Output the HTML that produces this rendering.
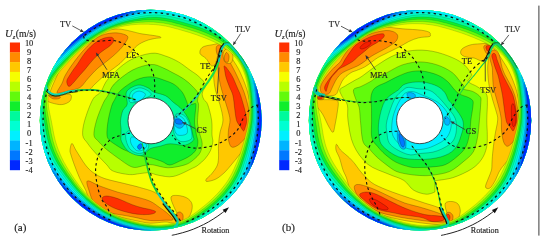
<!DOCTYPE html><html><head><meta charset="utf-8"><title>Axial velocity contours</title>
<style>html,body{margin:0;padding:0;background:#fff}svg{display:block}text{font-family:"Liberation Serif",serif;fill:#222;stroke:#222;stroke-width:0.15px}</style></head><body>
<svg width="550" height="242" viewBox="0 0 550 242">
<defs><filter id="b1"><feGaussianBlur stdDeviation="0.6"/></filter><filter id="b2"><feGaussianBlur stdDeviation="1.2"/></filter></defs>
<rect width="550" height="242" fill="#fff"/>
<rect x="9.9" y="42.50" width="10.1" height="10.10" fill="#ff3000"/>
<rect x="9.9" y="52.30" width="10.1" height="10.10" fill="#ff8a00"/>
<rect x="9.9" y="62.10" width="10.1" height="10.10" fill="#ffc800"/>
<rect x="9.9" y="71.90" width="10.1" height="10.10" fill="#f6ff00"/>
<rect x="9.9" y="81.70" width="10.1" height="10.10" fill="#b8ff00"/>
<rect x="9.9" y="91.50" width="10.1" height="10.10" fill="#62fa0c"/>
<rect x="9.9" y="101.30" width="10.1" height="10.10" fill="#10ee2c"/>
<rect x="9.9" y="111.10" width="10.1" height="10.10" fill="#00fa9c"/>
<rect x="9.9" y="120.90" width="10.1" height="10.10" fill="#00ffd2"/>
<rect x="9.9" y="130.70" width="10.1" height="10.10" fill="#00f0ff"/>
<rect x="9.9" y="140.50" width="10.1" height="10.10" fill="#00b4ff"/>
<rect x="9.9" y="150.30" width="10.1" height="10.10" fill="#0078ff"/>
<rect x="9.9" y="160.10" width="10.1" height="10.10" fill="#0028ff"/>
<text x="29.1" y="45.5" text-anchor="middle" font-size="8.4">10</text>
<text x="29.1" y="54.6" text-anchor="middle" font-size="8.4">9</text>
<text x="29.1" y="63.7" text-anchor="middle" font-size="8.4">8</text>
<text x="29.1" y="72.8" text-anchor="middle" font-size="8.4">7</text>
<text x="29.1" y="81.9" text-anchor="middle" font-size="8.4">6</text>
<text x="29.1" y="90.9" text-anchor="middle" font-size="8.4">5</text>
<text x="29.1" y="100.0" text-anchor="middle" font-size="8.4">4</text>
<text x="29.1" y="109.1" text-anchor="middle" font-size="8.4">3</text>
<text x="29.1" y="118.2" text-anchor="middle" font-size="8.4">2</text>
<text x="29.1" y="127.3" text-anchor="middle" font-size="8.4">1</text>
<text x="29.1" y="136.4" text-anchor="middle" font-size="8.4">0</text>
<text x="29.1" y="145.5" text-anchor="middle" font-size="8.4">-1</text>
<text x="29.1" y="154.6" text-anchor="middle" font-size="8.4">-2</text>
<text x="29.1" y="163.7" text-anchor="middle" font-size="8.4">-3</text>
<text x="29.1" y="172.8" text-anchor="middle" font-size="8.4">-4</text>
<text x="5.1" y="37.3" font-size="10.5"><tspan font-style="italic">U</tspan><tspan font-style="italic" font-size="6.5" dy="1.5">z</tspan><tspan dy="-1.5" dx="0.6" font-size="9.6">(m/s)</tspan></text>
<rect x="279.2" y="42.50" width="10.1" height="10.10" fill="#ff3000"/>
<rect x="279.2" y="52.30" width="10.1" height="10.10" fill="#ff8a00"/>
<rect x="279.2" y="62.10" width="10.1" height="10.10" fill="#ffc800"/>
<rect x="279.2" y="71.90" width="10.1" height="10.10" fill="#f6ff00"/>
<rect x="279.2" y="81.70" width="10.1" height="10.10" fill="#b8ff00"/>
<rect x="279.2" y="91.50" width="10.1" height="10.10" fill="#62fa0c"/>
<rect x="279.2" y="101.30" width="10.1" height="10.10" fill="#10ee2c"/>
<rect x="279.2" y="111.10" width="10.1" height="10.10" fill="#00fa9c"/>
<rect x="279.2" y="120.90" width="10.1" height="10.10" fill="#00ffd2"/>
<rect x="279.2" y="130.70" width="10.1" height="10.10" fill="#00f0ff"/>
<rect x="279.2" y="140.50" width="10.1" height="10.10" fill="#00b4ff"/>
<rect x="279.2" y="150.30" width="10.1" height="10.10" fill="#0078ff"/>
<rect x="279.2" y="160.10" width="10.1" height="10.10" fill="#0028ff"/>
<text x="298.4" y="45.5" text-anchor="middle" font-size="8.4">10</text>
<text x="298.4" y="54.6" text-anchor="middle" font-size="8.4">9</text>
<text x="298.4" y="63.7" text-anchor="middle" font-size="8.4">8</text>
<text x="298.4" y="72.8" text-anchor="middle" font-size="8.4">7</text>
<text x="298.4" y="81.9" text-anchor="middle" font-size="8.4">6</text>
<text x="298.4" y="90.9" text-anchor="middle" font-size="8.4">5</text>
<text x="298.4" y="100.0" text-anchor="middle" font-size="8.4">4</text>
<text x="298.4" y="109.1" text-anchor="middle" font-size="8.4">3</text>
<text x="298.4" y="118.2" text-anchor="middle" font-size="8.4">2</text>
<text x="298.4" y="127.3" text-anchor="middle" font-size="8.4">1</text>
<text x="298.4" y="136.4" text-anchor="middle" font-size="8.4">0</text>
<text x="298.4" y="145.5" text-anchor="middle" font-size="8.4">-1</text>
<text x="298.4" y="154.6" text-anchor="middle" font-size="8.4">-2</text>
<text x="298.4" y="163.7" text-anchor="middle" font-size="8.4">-3</text>
<text x="298.4" y="172.8" text-anchor="middle" font-size="8.4">-4</text>
<text x="274.4" y="37.3" font-size="10.5"><tspan font-style="italic">U</tspan><tspan font-style="italic" font-size="6.5" dy="1.5">z</tspan><tspan dy="-1.5" dx="0.6" font-size="9.6">(m/s)</tspan></text>
<clipPath id="clip1"><ellipse cx="150.7" cy="120.2" rx="110.9" ry="110.4"/></clipPath>
<g clip-path="url(#clip1)">
<rect x="30" y="0" width="240" height="242" fill="#f6ff00"/>
<path d="M211.7 120.8C211.0 115.7 209.0 108.1 207.7 104.5C206.4 101.0 204.8 101.1 203.8 99.4C202.9 97.8 202.4 96.1 202.2 94.7C202.1 93.3 203.0 90.8 203.0 90.8C203.0 90.8 206.0 85.5 206.0 85.5C206.0 85.5 204.9 83.0 203.5 81.3C202.0 79.5 199.5 77.0 197.2 75.1C194.9 73.2 193.0 72.2 189.9 70.0C186.8 67.8 182.6 64.3 178.5 61.9C174.3 59.5 169.4 57.2 164.8 55.8C160.2 54.3 157.0 52.5 151.0 53.3C145.0 54.1 136.2 56.5 129.1 60.7C122.0 64.8 113.3 73.2 108.6 78.4C103.9 83.6 103.4 88.3 100.8 91.8C98.1 95.3 95.4 94.8 92.7 99.6C90.0 104.4 86.3 114.8 84.6 120.8C82.9 126.8 82.3 131.6 82.7 135.3C83.2 139.0 85.5 140.3 87.2 142.8C88.8 145.2 90.6 147.5 92.7 149.9C94.7 152.3 96.9 154.5 99.3 157.0C101.7 159.5 104.6 162.6 106.9 164.9C109.2 167.3 109.4 169.5 113.1 171.1C116.8 172.7 124.8 174.2 129.3 174.6C133.7 175.0 136.5 173.9 139.8 173.6C143.1 173.3 146.0 172.5 149.2 172.8C152.3 173.0 154.6 174.7 158.7 175.3C162.7 175.9 167.9 177.6 173.5 176.4C179.1 175.3 188.2 170.3 192.3 168.3C196.5 166.4 196.2 166.5 198.3 164.9C200.4 163.3 203.1 161.0 205.1 158.7C207.1 156.3 209.0 153.8 210.3 151.0C211.5 148.2 212.5 144.8 212.8 142.1C213.1 139.4 212.2 138.4 212.0 134.9C211.8 131.3 212.4 125.9 211.7 120.8Z" fill="#b8ff00" stroke="#000" stroke-width="0.40" stroke-opacity="0.60"/>
<path d="M197.5 120.8C197.6 117.3 198.6 108.6 198.6 105.3C198.6 102.1 197.5 102.5 197.5 101.1C197.4 99.6 198.1 98.0 198.2 96.7C198.4 95.5 199.5 95.2 198.5 93.5C197.5 91.7 194.8 88.6 192.3 86.2C189.8 83.7 186.9 81.0 183.6 78.8C180.3 76.5 176.0 74.4 172.5 72.6C168.9 70.7 165.9 68.8 162.3 67.5C158.8 66.1 156.0 64.1 151.0 64.5C146.0 64.9 138.7 66.8 132.5 70.1C126.4 73.3 118.4 79.7 114.2 84.0C110.1 88.3 109.6 92.6 107.7 95.8C105.8 99.0 105.0 99.2 103.1 103.4C101.2 107.5 97.9 115.5 96.4 120.8C94.9 126.1 93.7 131.6 93.9 135.0C94.2 138.4 96.4 139.0 98.2 141.1C99.9 143.2 102.2 145.6 104.5 147.7C106.8 149.7 109.2 151.6 111.9 153.6C114.5 155.7 117.8 157.9 120.5 159.8C123.2 161.7 125.6 163.7 128.0 165.0C130.4 166.3 132.1 167.4 134.9 167.5C137.7 167.6 141.8 165.8 144.7 165.4C147.7 164.9 148.6 164.4 152.5 164.8C156.4 165.2 162.7 167.8 168.1 167.8C173.5 167.8 180.6 166.2 184.8 164.9C189.1 163.6 191.0 161.8 193.5 159.8C196.1 157.7 198.6 155.4 200.1 152.7C201.5 150.0 202.2 146.7 202.2 143.6C202.1 140.4 200.4 136.7 199.8 133.9C199.1 131.0 198.5 128.8 198.1 126.6C197.8 124.4 197.4 124.3 197.5 120.8Z" fill="#62fa0c" stroke="#000" stroke-width="0.40" stroke-opacity="0.60"/>
<path d="M194.5 120.8C194.6 117.2 195.9 108.2 195.9 105.3C196.0 102.5 194.7 103.6 194.7 103.6C194.7 103.6 188.0 105.5 188.0 105.5C188.0 105.5 187.0 102.1 186.0 99.9C185.1 97.7 184.1 94.8 182.3 92.3C180.4 89.8 177.8 86.9 174.9 84.9C172.0 83.0 169.0 81.8 165.0 80.5C161.1 79.1 155.8 76.9 151.0 76.8C146.2 76.7 141.2 77.7 136.1 79.9C131.1 82.2 124.2 87.1 120.6 90.4C117.0 93.7 116.1 97.1 114.6 99.8C113.1 102.5 112.6 102.9 111.5 106.4C110.4 109.9 108.9 116.0 108.1 120.8C107.3 125.6 106.7 131.9 107.0 135.1C107.2 138.3 108.1 138.6 109.5 140.2C110.9 141.8 113.1 143.1 115.5 144.7C117.9 146.3 120.9 148.3 124.0 149.8C127.1 151.3 131.0 152.6 134.2 153.7C137.5 154.8 140.6 155.8 143.4 156.5C146.2 157.2 147.9 157.0 151.0 157.8C154.1 158.6 158.7 160.2 161.9 161.4C165.0 162.6 166.8 165.0 169.8 165.0C172.7 164.9 176.5 162.5 179.8 161.0C183.1 159.6 187.0 157.9 189.7 156.0C192.4 154.1 194.5 152.2 195.9 149.9C197.2 147.6 197.8 144.7 197.9 142.2C198.0 139.6 196.9 137.2 196.4 134.7C196.0 132.2 195.4 129.3 195.1 127.0C194.7 124.7 194.4 124.4 194.5 120.8Z" fill="#10ee2c" stroke="#000" stroke-width="0.40" stroke-opacity="0.60"/>
<path d="M189.3 120.8C187.5 116.5 184.7 112.6 182.0 109.5C179.3 106.4 176.0 104.5 173.2 102.2C170.5 99.9 168.8 97.4 165.5 95.7C162.2 94.0 156.4 93.2 153.5 91.9C150.6 90.6 150.7 89.1 148.1 87.9C145.5 86.8 141.6 84.5 138.0 85.1C134.4 85.7 128.4 88.5 126.6 91.7C124.8 94.9 127.9 101.0 127.2 104.2C126.6 107.3 123.9 107.8 122.8 110.5C121.7 113.3 120.8 117.8 120.5 120.8C120.2 123.8 121.0 126.5 121.1 128.8C121.2 131.1 121.0 132.6 121.1 134.7C121.2 136.9 120.2 138.6 121.5 141.4C122.9 144.3 125.8 149.6 129.2 151.9C132.6 154.3 138.2 156.1 141.7 155.6C145.2 155.0 146.9 150.3 150.0 148.8C153.1 147.2 156.9 147.0 160.2 146.2C163.6 145.3 166.2 143.9 170.3 143.8C174.3 143.6 180.7 145.7 184.6 145.2C188.4 144.6 191.8 142.2 193.2 140.5C194.6 138.8 193.5 138.5 192.9 135.2C192.2 131.9 191.1 125.1 189.3 120.8Z" fill="#00fa9c" stroke="#000" stroke-width="0.40" stroke-opacity="0.60"/>
<path d="M151.0 94.8C151.6 93.3 148.7 91.2 146.7 90.1C144.7 89.0 141.7 87.6 139.0 87.9C136.4 88.2 132.5 89.9 130.9 92.1C129.3 94.4 128.7 99.7 129.4 101.4C130.2 103.1 133.3 102.8 135.6 102.4C137.9 102.0 140.6 100.5 143.1 99.2C145.7 97.9 150.4 96.3 151.0 94.8Z" fill="#00ffd2" stroke="#000" stroke-width="0.40" stroke-opacity="0.60"/>
<path d="M145.4 94.4C145.3 92.8 141.1 91.1 139.0 91.1C137.0 91.1 134.1 92.7 133.1 94.3C132.1 95.9 131.9 99.6 132.9 100.7C134.0 101.8 137.4 101.9 139.5 100.9C141.6 99.8 145.5 96.0 145.4 94.4Z" fill="#00f0ff" stroke="#000" stroke-width="0.40" stroke-opacity="0.60"/>
<path d="M176.1 114.1C177.8 112.4 181.5 113.9 183.5 115.1C185.5 116.2 186.7 118.0 188.0 120.8C189.3 123.6 191.1 128.6 191.6 131.7C192.0 134.8 192.7 137.8 190.9 139.4C189.0 141.0 183.2 142.3 180.5 141.4C177.7 140.6 175.5 137.1 174.4 134.3C173.2 131.5 173.4 128.2 173.7 124.8C173.9 121.4 174.5 115.7 176.1 114.1Z" fill="#00ffd2" stroke="#000" stroke-width="0.40" stroke-opacity="0.60"/>
<path d="M175.5 115.6C176.9 114.1 181.0 116.3 182.9 118.0C184.7 119.7 186.0 123.2 186.6 125.8C187.3 128.4 188.2 132.3 186.7 133.8C185.2 135.3 179.6 136.0 177.5 134.9C175.4 133.8 174.5 130.2 174.2 127.0C173.8 123.8 174.0 117.1 175.5 115.6Z" fill="#00f0ff" stroke="#000" stroke-width="0.40" stroke-opacity="0.60"/>
<path d="M174.8 117.5C176.0 116.8 179.5 118.4 181.0 119.8C182.5 121.1 184.0 124.0 183.7 125.4C183.4 126.8 180.7 128.5 179.0 128.3C177.4 128.1 174.5 125.8 173.8 124.0C173.1 122.2 173.6 118.2 174.8 117.5Z" fill="#00b4ff" stroke="#000" stroke-width="0.40" stroke-opacity="0.60"/>
<path d="M175.9 119.1C177.0 118.6 181.0 120.0 182.0 120.8C183.0 121.6 182.9 123.6 181.8 124.0C180.8 124.5 176.8 124.2 175.9 123.4C174.9 122.6 174.9 119.5 175.9 119.1Z" fill="#0078ff" stroke="#000" stroke-width="0.40" stroke-opacity="0.60"/>
<path d="M148.8 145.7C148.9 147.3 147.4 150.1 145.6 151.3C143.8 152.6 140.6 153.7 137.9 153.3C135.2 152.8 131.5 151.1 129.5 148.4C127.4 145.6 125.6 139.6 125.6 136.7C125.5 133.8 127.1 130.6 129.2 130.9C131.4 131.3 135.7 137.0 138.4 138.8C141.1 140.7 143.6 140.9 145.3 142.1C147.0 143.2 148.8 144.2 148.8 145.7Z" fill="#00ffd2" stroke="#000" stroke-width="0.40" stroke-opacity="0.60"/>
<path d="M146.7 145.4C146.9 146.9 144.9 148.9 143.2 149.8C141.5 150.6 138.6 151.6 136.5 150.5C134.5 149.3 131.7 145.4 130.9 143.1C130.1 140.8 130.1 137.3 131.8 136.9C133.6 136.5 139.2 139.3 141.7 140.7C144.2 142.2 146.4 143.9 146.7 145.4Z" fill="#00f0ff" stroke="#000" stroke-width="0.40" stroke-opacity="0.60"/>
<path d="M142.7 146.5C142.4 147.5 140.3 149.6 139.4 149.5C138.5 149.5 137.1 147.4 137.4 146.4C137.6 145.4 140.0 143.6 140.8 143.6C141.7 143.7 142.9 145.5 142.7 146.5Z" fill="#0078ff" stroke="#000" stroke-width="0.40" stroke-opacity="0.60"/>
<path d="M50.0 93.0C50.2 90.5 53.0 84.5 55.0 80.0C57.0 75.5 59.2 70.7 62.0 66.0C64.8 61.3 68.3 56.3 72.0 52.0C75.7 47.7 79.7 43.3 84.0 40.0C88.3 36.7 92.8 33.8 98.0 32.0C103.2 30.2 110.1 29.3 115.0 29.0C119.9 28.7 123.3 29.6 127.4 30.4C131.5 31.1 135.7 32.7 139.8 33.5C143.9 34.3 148.9 34.8 152.2 35.3C155.5 35.8 158.2 36.2 159.6 36.6C161.0 37.0 161.3 37.5 160.5 37.8C159.7 38.1 157.1 38.0 154.7 38.5C152.3 39.0 148.9 39.6 146.0 40.8C143.1 42.0 140.1 43.3 137.3 45.5C134.5 47.7 131.9 51.0 129.0 54.0C126.1 57.0 123.2 60.7 120.0 63.5C116.8 66.3 113.2 68.5 110.0 71.0C106.8 73.5 103.7 76.2 101.0 78.5C98.3 80.8 96.2 83.1 94.0 85.0C91.8 86.9 92.0 88.9 88.0 90.0C84.0 91.1 74.3 90.9 70.0 91.5C65.7 92.1 64.7 93.0 62.0 93.5C59.3 94.0 56.0 94.8 54.0 94.7C52.0 94.6 49.8 95.5 50.0 93.0Z" fill="#ffc800" stroke="#000" stroke-width="0.40" stroke-opacity="0.60"/>
<path d="M57.0 92.5C57.0 91.0 60.6 86.2 61.9 83.5C63.2 80.8 63.4 79.0 64.9 76.1C66.4 73.2 68.8 69.4 71.1 66.1C73.4 62.8 75.9 59.4 78.6 56.1C81.3 52.8 84.2 49.3 87.3 46.2C90.4 43.1 94.0 39.6 97.3 37.5C100.6 35.4 103.8 34.5 107.2 33.7C110.7 33.0 114.6 32.6 118.0 33.0C121.4 33.4 126.2 34.6 127.5 36.2C128.8 37.8 126.8 40.2 125.5 42.4C124.2 44.6 122.2 47.1 120.0 49.5C117.8 51.9 115.0 54.3 112.5 56.5C110.0 58.7 107.4 60.7 105.0 62.6C102.6 64.5 100.2 66.1 98.0 68.0C95.8 69.9 94.0 71.9 92.0 74.0C90.0 76.1 88.3 78.2 86.3 80.5C84.3 82.8 82.7 85.8 80.0 87.5C77.3 89.2 73.0 89.7 70.0 90.5C67.0 91.3 64.2 92.2 62.0 92.5C59.8 92.8 57.0 94.0 57.0 92.5Z" fill="#ff8a00" stroke="#000" stroke-width="0.40" stroke-opacity="0.60"/>
<path d="M69.0 86.5C67.7 86.4 66.6 82.9 66.8 81.0C67.0 79.1 68.8 76.9 69.9 75.0C71.0 73.1 72.3 71.2 73.5 69.5C74.7 67.8 75.7 66.6 76.9 64.9C78.1 63.2 79.3 61.2 80.6 59.2C81.9 57.2 83.2 55.1 84.9 53.0C86.6 50.9 88.5 48.7 90.5 46.8C92.5 44.9 94.4 43.2 96.7 41.8C99.0 40.3 101.6 38.9 104.1 38.1C106.6 37.4 110.0 36.9 111.6 37.3C113.2 37.7 114.0 39.1 113.8 40.5C113.6 41.9 111.9 43.9 110.3 45.5C108.7 47.1 106.2 48.4 104.1 49.9C102.0 51.4 99.8 53.1 97.9 54.8C96.1 56.4 94.5 58.1 93.0 59.8C91.5 61.5 90.0 63.2 88.6 64.9C87.2 66.6 86.0 68.2 84.5 70.0C83.0 71.8 81.2 73.6 79.5 75.5C77.8 77.4 76.2 79.7 74.5 81.5C72.8 83.3 70.3 86.6 69.0 86.5Z" fill="#ff3000" stroke="#000" stroke-width="0.40" stroke-opacity="0.60"/>
<path d="M45.5 94.7C47.0 94.1 51.8 96.5 55.0 96.5C58.2 96.5 62.3 94.8 65.0 94.5C67.7 94.2 70.2 93.9 71.0 95.0C71.8 96.1 71.5 99.4 70.0 101.0C68.5 102.6 65.0 104.3 62.0 104.6C59.0 104.9 54.7 103.8 52.0 103.0C49.3 102.2 47.1 101.4 46.0 100.0C44.9 98.6 44.0 95.3 45.5 94.7Z" fill="#ffc800" stroke="#000" stroke-width="0.40" stroke-opacity="0.60"/>
<path d="M48.6 95.5C48.8 95.2 52.1 96.8 54.0 97.0C55.9 97.2 59.2 96.2 60.0 96.5C60.8 96.8 60.2 98.2 59.0 98.6C57.8 99.0 54.7 99.3 53.0 98.8C51.3 98.3 48.4 95.8 48.6 95.5Z" fill="#ff8a00" stroke="#000" stroke-width="0.40" stroke-opacity="0.60"/>
<path d="M202.4 47.3C204.4 45.8 208.9 45.3 212.0 44.8C215.1 44.2 219.7 42.8 221.0 44.0C222.3 45.2 220.5 49.3 220.0 52.0C219.5 54.7 219.3 57.7 218.0 60.0C216.7 62.3 214.0 66.2 212.0 66.0C210.0 65.8 208.0 60.6 206.0 58.5C204.0 56.4 200.6 55.4 200.0 53.5C199.4 51.6 200.4 48.8 202.4 47.3Z" fill="#ffc800" stroke="#000" stroke-width="0.40" stroke-opacity="0.60"/>
<path d="M216.6 46.5C217.3 45.3 220.1 44.2 220.7 45.0C221.3 45.8 220.4 49.2 220.0 51.0C219.6 52.8 219.1 55.8 218.5 56.0C217.9 56.2 216.8 53.6 216.5 52.0C216.2 50.4 215.9 47.7 216.6 46.5Z" fill="#ff8a00" stroke="#000" stroke-width="0.40" stroke-opacity="0.60"/>
<path d="M221.0 47.0C222.7 45.0 224.0 47.8 226.0 50.0C228.0 52.2 230.7 56.3 233.0 60.0C235.3 63.7 237.7 67.0 240.0 72.0C242.3 77.0 245.2 83.7 247.0 90.0C248.8 96.3 250.2 103.3 251.0 110.0C251.8 116.7 253.0 123.8 252.0 130.0C251.0 136.2 247.3 142.6 245.0 147.0C242.7 151.4 240.2 153.6 238.0 156.5C235.8 159.4 233.8 161.8 231.5 164.5C229.2 167.2 227.1 170.1 224.5 172.5C221.9 174.9 218.9 177.5 216.0 179.0C213.1 180.5 208.6 181.5 207.0 181.5C205.4 181.5 205.6 180.2 206.3 179.0C207.1 177.8 209.7 176.2 211.5 174.0C213.3 171.8 215.8 168.7 217.0 166.0C218.2 163.3 218.2 161.5 218.5 158.0C218.8 154.5 218.2 149.2 218.5 145.0C218.8 140.8 219.2 136.7 220.0 132.5C220.8 128.3 223.0 124.6 223.0 120.0C223.0 115.4 221.3 109.8 220.0 104.8C218.7 99.8 216.5 95.0 215.4 90.0C214.3 85.0 213.6 79.7 213.7 75.0C213.8 70.3 214.8 66.7 216.0 62.0C217.2 57.3 219.3 49.0 221.0 47.0Z" fill="#ffc800" stroke="#000" stroke-width="0.40" stroke-opacity="0.60"/>
<path d="M221.5 52.0C222.7 51.3 224.2 53.7 226.0 56.0C227.8 58.3 230.0 62.3 232.0 66.0C234.0 69.7 236.0 73.7 238.0 78.0C240.0 82.3 242.2 87.0 244.0 92.0C245.8 97.0 247.4 103.0 248.5 108.0C249.6 113.0 250.5 117.8 250.5 122.0C250.5 126.2 249.7 130.0 248.5 133.0C247.3 136.0 245.3 137.9 243.5 140.0C241.7 142.1 239.5 144.3 237.5 145.5C235.5 146.7 233.0 147.9 231.5 147.0C230.0 146.1 229.0 142.8 228.5 140.0C228.0 137.2 228.2 133.3 228.5 130.0C228.8 126.7 230.1 123.4 230.0 120.0C229.9 116.6 228.8 113.6 227.8 109.8C226.8 106.0 225.2 101.5 224.0 97.4C222.8 93.3 221.4 89.6 220.4 85.0C219.4 80.4 218.2 74.2 218.0 70.0C217.8 65.8 218.4 63.0 219.0 60.0C219.6 57.0 220.3 52.7 221.5 52.0Z" fill="#ff8a00" stroke="#000" stroke-width="0.40" stroke-opacity="0.60"/>
<path d="M224.1 66.1C224.3 65.5 225.2 66.5 225.8 67.0C226.4 67.5 226.7 68.1 227.5 69.2C228.3 70.3 229.7 72.0 230.6 73.5C231.5 75.0 232.0 75.7 233.1 77.9C234.2 80.2 235.8 84.1 237.0 87.0C238.2 89.9 239.4 91.9 240.6 95.4C241.8 98.9 243.3 104.2 244.3 108.0C245.3 111.8 246.1 115.5 246.4 118.0C246.8 120.5 246.6 121.5 246.4 123.0C246.2 124.5 245.9 125.4 245.4 126.7C244.9 128.0 244.4 131.0 243.6 131.0C242.8 131.0 241.5 128.0 240.5 126.7C239.5 125.4 238.4 124.5 237.7 123.0C236.9 121.5 236.5 120.5 236.0 118.0C235.5 115.5 235.1 111.8 234.6 108.0C234.1 104.2 233.8 98.9 232.9 95.4C232.1 91.9 230.6 89.9 229.5 87.0C228.4 84.1 227.0 80.7 226.2 77.9C225.4 75.1 225.0 72.4 224.7 70.4C224.3 68.4 223.9 66.7 224.1 66.1Z" fill="#ff3000" stroke="#000" stroke-width="0.40" stroke-opacity="0.60"/>
<path d="M223.0 54.0C223.2 51.8 224.8 49.7 226.0 49.0C227.2 48.3 228.8 48.8 230.0 50.0C231.2 51.2 232.8 53.8 233.0 56.0C233.2 58.2 232.3 62.0 231.0 63.0C229.7 64.0 226.3 63.5 225.0 62.0C223.7 60.5 222.8 56.2 223.0 54.0Z" fill="#ffc800" stroke="#000" stroke-width="0.40" stroke-opacity="0.60"/>
<path d="M224.5 56.0C224.8 54.6 225.8 52.5 226.5 52.5C227.2 52.5 228.8 54.4 229.0 56.0C229.2 57.6 228.7 61.2 228.0 62.0C227.3 62.8 225.4 62.0 224.8 61.0C224.2 60.0 224.2 57.4 224.5 56.0Z" fill="#ff8a00" stroke="#000" stroke-width="0.40" stroke-opacity="0.60"/>
<path d="M72.0 143.5C73.0 143.5 74.3 147.6 75.8 150.0C77.3 152.4 79.1 155.4 80.8 158.0C82.5 160.6 83.7 162.9 85.7 165.3C87.7 167.7 89.8 170.3 93.0 172.5C96.2 174.7 99.5 176.8 104.8 178.6C110.1 180.4 118.9 182.1 124.7 183.6C130.5 185.1 134.7 185.9 139.7 187.4C144.7 188.9 150.7 190.2 154.6 192.3C158.5 194.4 160.4 197.4 163.0 200.0C165.6 202.6 167.8 205.3 170.0 208.0C172.2 210.7 174.2 213.3 176.0 216.0C177.8 218.7 181.7 222.8 181.0 224.0C180.3 225.2 174.7 223.3 172.0 223.0C169.3 222.7 168.7 222.0 165.0 222.0C161.3 222.0 155.0 223.4 150.0 223.2C145.0 222.9 139.7 221.4 135.0 220.5C130.3 219.6 126.0 218.4 122.0 217.5C118.0 216.6 114.5 216.0 111.0 214.8C107.5 213.6 103.8 212.1 101.0 210.5C98.2 208.9 96.2 207.4 94.0 205.0C91.8 202.6 89.4 198.5 88.0 196.0C86.6 193.5 87.0 192.9 85.5 189.8C84.0 186.7 81.1 181.5 79.3 177.4C77.5 173.3 75.8 168.7 74.4 165.0C73.0 161.3 71.7 157.5 71.0 155.0C70.3 152.5 69.8 151.9 70.0 150.0C70.2 148.1 71.0 143.5 72.0 143.5Z" fill="#ffc800" stroke="#000" stroke-width="0.40" stroke-opacity="0.60"/>
<path d="M87.4 181.0C89.1 180.0 94.8 184.2 99.8 186.0C104.8 187.8 111.5 190.2 117.3 192.0C123.1 193.8 129.3 195.0 134.7 196.5C140.1 198.0 145.4 199.2 149.6 201.0C153.8 202.8 156.7 205.5 159.6 207.5C162.5 209.5 164.8 211.0 167.0 213.0C169.2 215.0 173.3 218.3 173.0 219.5C172.7 220.7 168.8 220.0 165.0 220.2C161.2 220.4 155.0 221.0 150.0 220.5C145.0 220.0 139.7 218.3 135.0 217.4C130.3 216.5 126.0 215.7 122.0 215.0C118.0 214.3 114.3 214.0 111.0 213.0C107.7 212.0 104.8 210.7 102.0 209.0C99.2 207.3 96.1 205.8 94.0 203.0C91.9 200.2 90.6 195.7 89.5 192.0C88.4 188.3 85.7 182.0 87.4 181.0Z" fill="#ff8a00" stroke="#000" stroke-width="0.40" stroke-opacity="0.60"/>
<path d="M102.4 197.6C102.9 196.8 104.3 196.1 106.2 196.0C108.1 195.9 110.9 196.6 113.6 197.3C116.3 198.0 119.2 199.2 122.3 200.4C125.4 201.6 128.9 203.5 132.2 204.7C135.5 205.9 139.0 207.0 142.1 207.8C145.2 208.6 148.5 209.0 150.8 209.7C153.1 210.3 155.5 211.0 155.7 211.7C155.9 212.4 154.3 213.5 152.0 214.0C149.7 214.5 145.4 214.7 142.1 214.6C138.8 214.5 135.5 214.0 132.2 213.4C128.9 212.8 125.4 211.8 122.3 210.9C119.2 210.0 116.3 209.0 113.6 207.8C110.9 206.6 108.0 204.7 106.2 203.5C104.4 202.3 103.6 201.6 103.0 200.6C102.4 199.6 101.9 198.4 102.4 197.6Z" fill="#ff3000" stroke="#000" stroke-width="0.40" stroke-opacity="0.60"/>
<path d="M171.0 197.0C171.7 195.1 175.3 195.3 178.0 195.5C180.7 195.7 184.7 196.6 187.0 198.0C189.3 199.4 191.3 201.5 192.0 204.0C192.7 206.5 192.0 210.2 191.0 213.0C190.0 215.8 187.5 219.3 186.0 221.0C184.5 222.7 183.3 224.0 182.0 223.0C180.7 222.0 179.3 217.7 178.0 215.0C176.7 212.3 175.2 210.0 174.0 207.0C172.8 204.0 170.3 198.9 171.0 197.0Z" fill="#ffc800" stroke="#000" stroke-width="0.40" stroke-opacity="0.60"/>
<path d="M176.8 213.5C177.1 212.5 179.0 211.8 180.0 212.0C181.0 212.2 182.6 213.5 183.0 215.0C183.4 216.5 183.0 219.9 182.5 221.0C182.0 222.1 180.8 222.1 180.0 221.6C179.2 221.1 178.5 219.3 178.0 218.0C177.5 216.7 176.5 214.5 176.8 213.5Z" fill="#ff8a00" stroke="#000" stroke-width="0.40" stroke-opacity="0.60"/>
<path d="M265.4 120.2L263.7 100.3L258.5 81.0L250.0 62.9L238.6 46.5L224.4 32.3L208.1 20.9L189.9 12.4L170.6 7.2L150.7 5.5L130.8 7.2L111.5 12.4L93.4 20.9L77.0 32.3L62.8 46.5L51.4 62.9L42.9 81.0L37.7 100.3L36.0 120.2L37.7 140.1L42.9 159.4L51.4 177.6L62.8 193.9L77.0 208.1L93.3 219.5L111.5 228.0L130.8 233.2L150.7 234.9L170.6 233.2L189.9 228.0L208.1 219.5L224.4 208.1L238.6 193.9L250.0 177.6L258.5 159.4L263.7 140.1ZM248.3 122.8L247.9 125.3L247.4 127.8L246.8 130.3L246.2 132.8L245.5 135.2L244.9 137.7L244.3 140.1L243.6 142.5L242.9 144.9L242.2 147.3L241.5 149.7L240.7 152.1L239.9 154.4L239.0 156.8L238.1 159.1L237.2 161.5L236.2 163.8L235.2 166.1L234.2 168.4L233.2 170.7L232.1 173.0L230.9 175.3L229.6 177.5L228.3 179.7L226.9 181.9L225.4 184.0L223.8 186.1L222.2 188.1L220.6 190.1L218.9 192.0L217.1 194.0L215.3 195.8L213.4 197.7L211.5 199.5L209.6 201.3L207.6 203.0L205.6 204.7L203.5 206.4L201.4 208.1L199.3 209.7L197.2 211.4L195.0 213.0L192.7 214.6L190.4 216.1L188.1 217.5L185.6 218.8L183.1 220.0L180.6 221.1L178.0 222.1L175.3 222.9L172.7 223.5L169.9 224.0L167.2 224.4L164.5 224.7L161.7 224.9L158.9 225.0L156.2 225.0L153.4 224.9L150.7 224.7L148.0 224.3L145.3 223.9L142.6 223.5L139.9 222.9L137.3 222.3L134.6 221.7L132.0 221.0L129.4 220.2L126.9 219.4L124.3 218.6L121.8 217.6L119.4 216.7L116.9 215.6L114.5 214.5L112.1 213.3L109.8 212.1L107.5 210.8L105.2 209.4L103.0 208.0L100.9 206.5L98.7 205.0L96.7 203.4L94.6 201.8L92.7 200.1L90.7 198.3L88.9 196.6L87.0 194.7L85.3 192.9L83.6 191.0L81.9 189.0L80.3 187.0L78.7 185.0L77.3 182.9L75.8 180.9L74.3 178.8L72.9 176.7L71.5 174.6L70.2 172.5L68.8 170.4L67.5 168.2L66.2 166.1L65.0 163.9L63.7 161.7L62.6 159.4L61.5 157.2L60.4 154.8L59.5 152.5L58.5 150.2L57.6 147.8L56.8 145.4L56.0 142.9L55.3 140.5L54.7 138.0L54.1 135.5L53.6 133.0L53.1 130.5L52.7 127.9L52.2 125.4L51.7 122.8L51.2 120.2L50.6 117.6L50.1 114.9L49.5 112.2L49.0 109.5L48.6 106.8L48.3 104.0L48.1 101.2L48.0 98.4L48.2 95.6L48.6 92.8L49.2 90.1L50.0 87.5L51.1 84.9L52.2 82.4L53.6 80.0L55.1 77.7L56.8 75.4L58.5 73.2L60.2 71.1L62.0 69.0L63.8 67.0L65.6 65.0L67.5 63.0L69.3 61.0L71.1 59.1L72.9 57.2L74.8 55.4L76.7 53.6L78.6 51.8L80.5 50.0L82.5 48.3L84.5 46.6L86.5 45.0L88.5 43.4L90.6 41.8L92.7 40.3L94.8 38.9L96.9 37.4L99.1 36.0L101.4 34.7L103.6 33.5L105.9 32.3L108.2 31.2L110.6 30.1L113.0 29.2L115.4 28.4L117.9 27.6L120.4 26.9L122.9 26.3L125.4 25.8L127.9 25.4L130.5 25.0L133.0 24.7L135.5 24.5L138.1 24.3L140.6 24.2L143.1 24.2L145.7 24.2L148.2 24.2L150.7 24.4L153.2 24.5L155.7 24.7L158.2 25.0L160.7 25.3L163.1 25.7L165.6 26.1L168.0 26.6L170.5 27.2L172.9 27.8L175.3 28.5L177.7 29.1L180.1 29.8L182.5 30.5L184.9 31.2L187.3 31.9L189.7 32.6L192.1 33.4L194.5 34.2L197.0 35.0L199.4 35.9L201.8 36.8L204.3 37.7L206.7 38.7L209.2 39.7L211.6 40.8L214.1 41.9L216.6 43.1L219.0 44.3L221.4 45.7L223.8 47.1L226.1 48.7L228.3 50.4L230.4 52.2L232.4 54.1L234.2 56.1L236.0 58.2L237.7 60.4L239.2 62.7L240.7 65.1L241.9 67.5L243.1 70.0L244.1 72.6L245.0 75.2L245.8 77.9L246.4 80.5L247.0 83.2L247.5 85.9L247.9 88.6L248.2 91.3L248.5 94.0L248.7 96.7L248.9 99.3L249.1 102.0L249.2 104.6L249.3 107.2L249.3 109.8L249.3 112.4L249.2 115.0L249.0 117.6L248.7 120.2Z" fill="#b8ff00" fill-rule="evenodd" stroke="#000" stroke-width="0.3" stroke-opacity="0.45"/>
<path d="M265.4 120.2L263.7 100.3L258.5 81.0L250.0 62.9L238.6 46.5L224.4 32.3L208.1 20.9L189.9 12.4L170.6 7.2L150.7 5.5L130.8 7.2L111.5 12.4L93.4 20.9L77.0 32.3L62.8 46.5L51.4 62.9L42.9 81.0L37.7 100.3L36.0 120.2L37.7 140.1L42.9 159.4L51.4 177.6L62.8 193.9L77.0 208.1L93.3 219.5L111.5 228.0L130.8 233.2L150.7 234.9L170.6 233.2L189.9 228.0L208.1 219.5L224.4 208.1L238.6 193.9L250.0 177.6L258.5 159.4L263.7 140.1ZM249.6 122.8L249.2 125.4L248.7 127.9L248.1 130.4L247.6 133.0L247.0 135.4L246.4 137.9L245.8 140.4L245.1 142.9L244.5 145.3L243.8 147.8L243.1 150.2L242.3 152.6L241.5 155.0L240.7 157.5L239.8 159.9L238.9 162.3L238.0 164.7L237.0 167.0L235.9 169.4L234.9 171.8L233.8 174.1L232.6 176.5L231.3 178.7L229.9 181.0L228.5 183.2L226.9 185.3L225.3 187.4L223.7 189.5L222.0 191.5L220.2 193.5L218.4 195.4L216.6 197.3L214.7 199.2L212.7 201.0L210.7 202.8L208.7 204.6L206.6 206.3L204.5 208.0L202.3 209.6L200.1 211.3L197.9 212.9L195.7 214.5L193.4 216.0L191.0 217.5L188.6 218.9L186.1 220.1L183.5 221.3L180.9 222.3L178.3 223.2L175.6 223.9L172.9 224.5L170.1 225.0L167.4 225.4L164.6 225.6L161.8 225.8L159.0 225.9L156.2 225.9L153.5 225.8L150.7 225.5L148.0 225.2L145.2 224.8L142.5 224.4L139.8 223.8L137.1 223.2L134.5 222.5L131.9 221.8L129.3 221.1L126.7 220.3L124.1 219.4L121.6 218.5L119.1 217.6L116.6 216.5L114.2 215.4L111.7 214.2L109.4 213.0L107.1 211.7L104.8 210.3L102.5 208.9L100.3 207.4L98.2 205.9L96.1 204.3L94.0 202.7L92.0 201.0L90.0 199.3L88.1 197.5L86.2 195.7L84.4 193.8L82.6 191.9L80.9 190.0L79.2 188.0L77.6 186.0L76.1 183.9L74.5 181.9L73.0 179.8L71.5 177.7L70.1 175.6L68.7 173.5L67.2 171.3L65.9 169.2L64.5 167.0L63.2 164.8L61.9 162.6L60.7 160.3L59.5 158.0L58.4 155.6L57.3 153.3L56.3 150.9L55.4 148.4L54.5 146.0L53.8 143.5L53.0 141.0L52.4 138.4L51.8 135.9L51.2 133.3L50.8 130.7L50.3 128.1L49.8 125.5L49.3 122.9L48.9 120.2L48.4 117.5L47.9 114.8L47.4 112.1L47.0 109.3L46.7 106.5L46.5 103.7L46.4 100.9L46.5 98.0L46.8 95.2L47.2 92.5L47.9 89.7L48.7 87.1L49.8 84.5L51.0 81.9L52.3 79.5L53.8 77.1L55.5 74.8L57.2 72.5L58.9 70.4L60.8 68.3L62.6 66.2L64.4 64.2L66.3 62.2L68.2 60.2L70.0 58.3L71.9 56.4L73.8 54.5L75.7 52.7L77.7 50.9L79.7 49.2L81.6 47.4L83.7 45.7L85.7 44.1L87.8 42.5L89.9 40.9L92.0 39.4L94.1 37.9L96.3 36.5L98.5 35.1L100.8 33.8L103.1 32.5L105.4 31.3L107.7 30.1L110.1 29.1L112.6 28.1L115.0 27.2L117.5 26.4L120.0 25.7L122.5 25.0L125.0 24.5L127.6 24.0L130.2 23.5L132.7 23.1L135.3 22.8L137.8 22.5L140.4 22.3L143.0 22.2L145.6 22.1L148.1 22.0L150.7 22.0L153.3 22.1L155.8 22.3L158.4 22.5L160.9 22.8L163.5 23.1L166.0 23.6L168.5 24.1L171.0 24.6L173.5 25.3L176.0 25.9L178.4 26.6L180.9 27.3L183.4 28.0L185.8 28.7L188.3 29.4L190.8 30.2L193.3 31.0L195.8 31.8L198.2 32.6L200.7 33.6L203.2 34.5L205.7 35.5L208.2 36.6L210.7 37.7L213.2 38.8L215.6 40.0L218.1 41.3L220.5 42.7L222.8 44.2L225.1 45.8L227.3 47.5L229.4 49.4L231.4 51.3L233.3 53.3L235.1 55.4L236.9 57.6L238.6 59.8L240.1 62.1L241.5 64.5L242.8 67.0L244.0 69.5L245.0 72.1L246.0 74.8L246.8 77.4L247.4 80.1L248.0 82.8L248.5 85.6L248.9 88.3L249.2 91.0L249.5 93.7L249.8 96.4L250.0 99.1L250.2 101.8L250.3 104.4L250.4 107.1L250.4 109.7L250.4 112.4L250.3 115.0L250.2 117.6L249.9 120.2Z" fill="#62fa0c" fill-rule="evenodd" stroke="#000" stroke-width="0.3" stroke-opacity="0.45"/>
<path d="M265.4 120.2L263.7 100.3L258.5 81.0L250.0 62.9L238.6 46.5L224.4 32.3L208.1 20.9L189.9 12.4L170.6 7.2L150.7 5.5L130.8 7.2L111.5 12.4L93.4 20.9L77.0 32.3L62.8 46.5L51.4 62.9L42.9 81.0L37.7 100.3L36.0 120.2L37.7 140.1L42.9 159.4L51.4 177.6L62.8 193.9L77.0 208.1L93.3 219.5L111.5 228.0L130.8 233.2L150.7 234.9L170.6 233.2L189.9 228.0L208.1 219.5L224.4 208.1L238.6 193.9L250.0 177.6L258.5 159.4L263.7 140.1ZM250.9 122.8L250.5 125.4L250.0 128.0L249.5 130.6L249.0 133.1L248.4 135.7L247.8 138.2L247.2 140.7L246.6 143.2L246.0 145.7L245.3 148.2L244.6 150.7L243.9 153.2L243.1 155.7L242.3 158.1L241.4 160.6L240.6 163.1L239.7 165.5L238.7 168.0L237.7 170.4L236.6 172.8L235.5 175.2L234.2 177.6L232.9 179.9L231.5 182.2L230.0 184.4L228.5 186.6L226.8 188.8L225.2 190.9L223.4 192.9L221.6 194.9L219.7 196.9L217.8 198.8L215.9 200.7L213.9 202.5L211.8 204.3L209.7 206.1L207.6 207.8L205.4 209.5L203.2 211.1L201.0 212.8L198.7 214.4L196.4 215.9L194.0 217.4L191.6 218.9L189.1 220.2L186.5 221.4L183.9 222.5L181.3 223.5L178.6 224.3L175.9 225.0L173.1 225.6L170.3 226.0L167.5 226.3L164.7 226.6L161.9 226.8L159.1 226.8L156.3 226.8L153.5 226.6L150.7 226.4L147.9 226.1L145.2 225.7L142.4 225.2L139.7 224.7L137.0 224.1L134.3 223.4L131.7 222.7L129.1 222.0L126.5 221.2L123.9 220.3L121.3 219.4L118.8 218.5L116.3 217.4L113.8 216.3L111.4 215.1L109.0 213.9L106.6 212.6L104.3 211.3L102.0 209.8L99.8 208.4L97.6 206.8L95.5 205.3L93.4 203.6L91.3 202.0L89.3 200.2L87.3 198.5L85.4 196.7L83.5 194.8L81.7 192.9L79.9 191.0L78.2 189.0L76.5 187.0L74.9 185.0L73.3 182.9L71.7 180.8L70.2 178.7L68.6 176.6L67.1 174.5L65.7 172.3L64.2 170.1L62.8 167.9L61.4 165.7L60.0 163.5L58.7 161.2L57.5 158.8L56.3 156.4L55.2 154.0L54.1 151.6L53.2 149.1L52.3 146.6L51.5 144.0L50.7 141.5L50.0 138.9L49.4 136.2L48.9 133.6L48.4 131.0L47.9 128.3L47.5 125.6L47.0 122.9L46.5 120.2L46.1 117.5L45.7 114.7L45.3 111.9L45.0 109.1L44.7 106.3L44.7 103.4L44.7 100.6L44.9 97.7L45.3 94.9L45.9 92.1L46.6 89.4L47.5 86.7L48.5 84.0L49.7 81.4L51.0 78.9L52.5 76.5L54.2 74.2L55.9 71.9L57.7 69.7L59.5 67.5L61.4 65.5L63.3 63.4L65.2 61.4L67.1 59.4L69.0 57.5L70.9 55.6L72.8 53.7L74.8 51.8L76.8 50.0L78.8 48.3L80.8 46.5L82.8 44.8L84.9 43.2L87.0 41.6L89.2 40.0L91.3 38.5L93.5 37.0L95.7 35.5L98.0 34.1L100.2 32.8L102.5 31.5L104.9 30.3L107.3 29.1L109.7 28.0L112.1 27.0L114.6 26.1L117.1 25.3L119.6 24.5L122.1 23.8L124.7 23.1L127.3 22.6L129.8 22.0L132.4 21.6L135.0 21.1L137.6 20.7L140.2 20.4L142.8 20.1L145.4 19.9L148.1 19.8L150.7 19.7L153.3 19.7L156.0 19.8L158.6 20.0L161.2 20.3L163.8 20.6L166.4 21.0L169.0 21.5L171.6 22.1L174.1 22.7L176.6 23.4L179.2 24.1L181.7 24.8L184.2 25.5L186.8 26.2L189.3 27.0L191.9 27.8L194.4 28.6L197.0 29.4L199.5 30.3L202.1 31.2L204.6 32.2L207.1 33.3L209.7 34.4L212.2 35.6L214.7 36.8L217.2 38.1L219.6 39.6L221.9 41.1L224.2 42.8L226.4 44.5L228.5 46.4L230.5 48.4L232.4 50.4L234.3 52.5L236.1 54.7L237.8 56.9L239.4 59.2L240.9 61.6L242.4 64.0L243.7 66.5L244.9 69.0L246.0 71.7L246.9 74.3L247.7 77.0L248.4 79.7L249.0 82.5L249.5 85.2L249.9 88.0L250.3 90.7L250.6 93.4L250.8 96.2L251.1 98.9L251.3 101.6L251.4 104.2L251.5 106.9L251.6 109.6L251.6 112.3L251.5 114.9L251.4 117.6L251.2 120.2Z" fill="#10ee2c" fill-rule="evenodd" stroke="#000" stroke-width="0.3" stroke-opacity="0.45"/>
<path d="M265.4 120.2L263.7 100.3L258.5 81.0L250.0 62.9L238.6 46.5L224.4 32.3L208.1 20.9L189.9 12.4L170.6 7.2L150.7 5.5L130.8 7.2L111.5 12.4L93.4 20.9L77.0 32.3L62.8 46.5L51.4 62.9L42.9 81.0L37.7 100.3L36.0 120.2L37.7 140.1L42.9 159.4L51.4 177.6L62.8 193.9L77.0 208.1L93.3 219.5L111.5 228.0L130.8 233.2L150.7 234.9L170.6 233.2L189.9 228.0L208.1 219.5L224.4 208.1L238.6 193.9L250.0 177.6L258.5 159.4L263.7 140.1ZM252.1 122.9L251.8 125.5L251.4 128.1L250.9 130.7L250.4 133.3L249.9 135.9L249.3 138.5L248.7 141.0L248.2 143.6L247.5 146.1L246.9 148.7L246.2 151.2L245.5 153.8L244.7 156.3L243.9 158.8L243.1 161.3L242.2 163.9L241.4 166.4L240.4 168.9L239.4 171.4L238.3 173.9L237.2 176.4L235.9 178.8L234.6 181.1L233.1 183.5L231.6 185.7L230.0 187.9L228.3 190.1L226.6 192.2L224.8 194.3L223.0 196.4L221.1 198.3L219.1 200.3L217.1 202.2L215.0 204.1L212.9 205.9L210.8 207.6L208.6 209.4L206.4 211.0L204.1 212.7L201.8 214.3L199.4 215.8L197.0 217.4L194.6 218.9L192.1 220.2L189.6 221.5L187.0 222.7L184.3 223.7L181.6 224.6L178.9 225.4L176.1 226.1L173.3 226.6L170.5 227.0L167.7 227.3L164.8 227.5L162.0 227.7L159.2 227.7L156.3 227.7L153.5 227.5L150.7 227.3L147.9 227.0L145.1 226.6L142.4 226.1L139.6 225.6L136.9 225.0L134.2 224.3L131.5 223.6L128.9 222.9L126.2 222.1L123.6 221.2L121.0 220.3L118.5 219.4L116.0 218.3L113.5 217.2L111.0 216.1L108.6 214.8L106.2 213.5L103.8 212.2L101.5 210.8L99.3 209.3L97.0 207.8L94.9 206.2L92.7 204.6L90.6 202.9L88.5 201.2L86.5 199.4L84.6 197.6L82.6 195.8L80.7 193.9L78.9 192.0L77.1 190.0L75.4 188.0L73.7 186.0L72.0 183.9L70.4 181.8L68.8 179.7L67.2 177.6L65.6 175.5L64.1 173.3L62.5 171.1L61.0 168.9L59.6 166.6L58.1 164.4L56.8 162.0L55.5 159.7L54.2 157.2L53.1 154.8L52.0 152.3L51.0 149.7L50.0 147.2L49.2 144.6L48.4 141.9L47.7 139.3L47.1 136.6L46.5 133.9L46.0 131.2L45.6 128.5L45.1 125.7L44.7 123.0L44.2 120.2L43.8 117.4L43.5 114.6L43.1 111.7L42.9 108.9L42.8 106.0L42.9 103.1L43.1 100.2L43.4 97.4L43.9 94.6L44.5 91.7L45.2 89.0L46.2 86.2L47.2 83.6L48.4 80.9L49.8 78.4L51.2 75.9L52.9 73.5L54.6 71.2L56.4 69.0L58.2 66.8L60.1 64.7L62.1 62.6L64.0 60.6L66.0 58.6L67.9 56.7L69.9 54.7L71.8 52.8L73.8 51.0L75.9 49.2L77.9 47.4L80.0 45.7L82.0 43.9L84.1 42.3L86.3 40.6L88.4 39.1L90.6 37.5L92.9 36.0L95.1 34.6L97.4 33.2L99.7 31.8L102.0 30.5L104.4 29.3L106.8 28.1L109.2 27.0L111.7 26.0L114.2 25.0L116.7 24.1L119.2 23.3L121.8 22.5L124.3 21.8L126.9 21.1L129.5 20.5L132.1 20.0L134.7 19.4L137.4 19.0L140.0 18.5L142.7 18.1L145.3 17.8L148.0 17.5L150.7 17.4L153.4 17.3L156.1 17.3L158.8 17.5L161.5 17.7L164.1 18.1L166.8 18.5L169.5 19.0L172.1 19.5L174.7 20.2L177.3 20.8L179.9 21.5L182.5 22.2L185.1 23.0L187.7 23.7L190.3 24.5L192.9 25.3L195.6 26.2L198.2 27.0L200.8 28.0L203.4 28.9L206.0 30.0L208.6 31.1L211.1 32.3L213.7 33.5L216.2 34.8L218.7 36.2L221.1 37.8L223.4 39.5L225.6 41.3L227.7 43.2L229.7 45.3L231.6 47.4L233.5 49.5L235.3 51.7L237.0 54.0L238.7 56.3L240.3 58.6L241.8 61.0L243.3 63.5L244.6 66.0L245.8 68.6L246.9 71.2L247.9 73.9L248.7 76.6L249.4 79.3L250.0 82.1L250.5 84.8L251.0 87.6L251.3 90.4L251.6 93.2L251.9 95.9L252.2 98.6L252.4 101.4L252.5 104.1L252.6 106.8L252.7 109.5L252.7 112.2L252.7 114.9L252.6 117.5L252.4 120.2Z" fill="#00fa9c" fill-rule="evenodd" stroke="#000" stroke-width="0.3" stroke-opacity="0.45"/>
<path d="M265.4 120.2L263.7 100.3L258.5 81.0L250.0 62.9L238.6 46.5L224.4 32.3L208.1 20.9L189.9 12.4L170.6 7.2L150.7 5.5L130.8 7.2L111.5 12.4L93.4 20.9L77.0 32.3L62.8 46.5L51.4 62.9L42.9 81.0L37.7 100.3L36.0 120.2L37.7 140.1L42.9 159.4L51.4 177.6L62.8 193.9L77.0 208.1L93.3 219.5L111.5 228.0L130.8 233.2L150.7 234.9L170.6 233.2L189.9 228.0L208.1 219.5L224.4 208.1L238.6 193.9L250.0 177.6L258.5 159.4L263.7 140.1ZM253.4 122.9L253.1 125.6L252.7 128.2L252.3 130.9L251.8 133.5L251.3 136.1L250.8 138.8L250.2 141.4L249.7 144.0L249.1 146.6L248.4 149.2L247.8 151.7L247.1 154.3L246.3 156.9L245.6 159.5L244.8 162.1L243.9 164.7L243.1 167.3L242.1 169.8L241.1 172.4L240.1 175.0L238.9 177.5L237.6 179.9L236.2 182.3L234.8 184.7L233.2 187.0L231.6 189.3L229.8 191.5L228.1 193.6L226.2 195.7L224.3 197.8L222.4 199.8L220.4 201.8L218.3 203.7L216.2 205.6L214.1 207.4L211.8 209.2L209.6 210.9L207.3 212.6L205.0 214.2L202.6 215.8L200.2 217.3L197.7 218.8L195.3 220.3L192.7 221.6L190.1 222.8L187.4 223.9L184.7 224.9L182.0 225.8L179.2 226.6L176.4 227.2L173.5 227.6L170.7 228.0L167.8 228.3L165.0 228.5L162.1 228.6L159.2 228.6L156.4 228.6L153.5 228.4L150.7 228.2L147.9 227.9L145.1 227.5L142.3 227.0L139.5 226.5L136.8 225.9L134.1 225.2L131.4 224.5L128.7 223.8L126.0 223.0L123.4 222.1L120.8 221.2L118.2 220.3L115.6 219.2L113.1 218.1L110.6 217.0L108.2 215.7L105.7 214.4L103.4 213.1L101.0 211.7L98.7 210.2L96.5 208.7L94.2 207.1L92.1 205.5L89.9 203.9L87.8 202.2L85.8 200.4L83.7 198.6L81.7 196.8L79.8 194.9L77.9 193.0L76.1 191.0L74.3 189.0L72.5 187.0L70.8 184.9L69.1 182.8L67.4 180.7L65.7 178.6L64.1 176.4L62.5 174.3L60.9 172.1L59.3 169.8L57.8 167.6L56.3 165.2L54.8 162.9L53.4 160.5L52.1 158.0L50.9 155.5L49.8 153.0L48.7 150.4L47.8 147.8L46.9 145.1L46.1 142.4L45.4 139.7L44.8 137.0L44.2 134.2L43.7 131.4L43.2 128.7L42.7 125.9L42.3 123.0L41.9 120.2L41.6 117.3L41.3 114.5L41.0 111.6L40.9 108.7L39.4 105.5L39.6 102.6L39.9 99.7L40.4 96.7L41.0 93.9L41.7 91.0L42.5 88.1L43.4 85.4L44.5 82.6L45.7 79.9L48.5 77.9L49.9 75.3L51.5 72.9L53.3 70.6L55.1 68.3L57.0 66.1L58.9 64.0L60.9 61.9L62.9 59.8L64.9 57.8L66.8 55.9L68.8 53.9L70.8 52.0L72.9 50.1L74.9 48.3L77.0 46.5L79.1 44.8L81.2 43.0L83.4 41.4L85.5 39.7L87.7 38.1L90.0 36.6L92.2 35.1L94.5 33.6L96.8 32.2L99.1 30.8L101.5 29.5L103.9 28.3L106.3 27.1L108.7 25.9L111.2 24.9L113.7 23.9L116.3 22.9L118.8 22.0L121.4 21.2L124.0 20.4L126.6 19.7L129.2 19.0L131.8 18.4L134.5 17.8L137.1 17.2L139.8 16.6L142.5 16.1L145.2 15.7L148.0 15.3L150.7 15.1L153.5 14.9L156.2 14.9L159.0 15.0L161.7 15.2L164.5 15.5L167.2 15.9L169.9 16.4L172.6 17.0L175.3 17.6L178.0 18.3L180.7 19.0L183.3 19.7L186.0 20.5L188.7 21.3L191.3 22.1L194.0 22.9L196.7 23.8L199.4 24.7L202.1 25.6L204.7 26.6L207.4 27.7L210.0 28.9L212.6 30.1L215.2 31.5L217.7 32.9L220.2 34.4L222.6 36.0L225.8 36.7L228.0 38.8L228.9 42.0L230.9 44.1L232.7 46.4L234.5 48.6L236.2 50.9L237.9 53.3L239.5 55.7L241.1 58.1L242.7 60.5L244.1 62.9L245.5 65.5L246.7 68.1L247.8 70.7L248.8 73.4L249.7 76.1L250.4 78.9L251.0 81.7L251.6 84.5L252.0 87.3L252.4 90.1L252.7 92.9L253.0 95.6L253.2 98.4L253.5 101.2L253.6 103.9L253.7 106.6L253.8 109.4L253.9 112.1L253.8 114.8L253.8 117.5L253.6 120.2Z" fill="#00ffd2" fill-rule="evenodd" stroke="#000" stroke-width="0.3" stroke-opacity="0.45"/>
<path d="M265.4 120.2L263.7 100.3L258.5 81.0L250.0 62.9L238.6 46.5L224.4 32.3L208.1 20.9L189.9 12.4L170.6 7.2L150.7 5.5L130.8 7.2L111.5 12.4L93.4 20.9L77.0 32.3L62.8 46.5L51.4 62.9L42.9 81.0L37.7 100.3L36.0 120.2L37.7 140.1L42.9 159.4L51.4 177.6L62.8 193.9L77.0 208.1L93.3 219.5L111.5 228.0L130.8 233.2L150.7 234.9L170.6 233.2L189.9 228.0L208.1 219.5L224.4 208.1L238.6 193.9L250.0 177.6L258.5 159.4L263.7 140.1ZM254.6 122.9L254.4 125.6L254.0 128.3L253.6 131.0L253.2 133.7L252.8 136.4L252.3 139.0L251.7 141.7L251.2 144.3L250.6 147.0L250.0 149.6L249.3 152.3L248.7 154.9L248.0 157.5L247.2 160.2L246.4 162.8L245.6 165.5L244.8 168.1L243.9 170.8L242.9 173.4L241.8 176.0L240.6 178.6L239.3 181.1L237.9 183.5L236.4 185.9L234.8 188.3L233.1 190.6L231.3 192.8L229.5 195.0L227.6 197.1L225.7 199.2L223.7 201.3L221.6 203.3L219.5 205.2L217.4 207.1L215.2 208.9L212.9 210.7L210.6 212.4L208.2 214.1L205.8 215.7L203.4 217.3L200.9 218.8L199.1 221.6L196.5 223.1L193.9 224.4L191.1 225.6L188.4 226.6L185.6 227.6L182.8 228.4L179.9 229.1L177.0 229.7L174.1 230.1L170.9 229.0L168.0 229.3L165.1 229.4L162.2 229.5L159.3 229.5L156.4 229.5L153.6 229.3L150.7 229.1L147.9 228.7L145.0 228.3L142.2 227.9L139.4 227.3L136.7 226.7L133.9 226.1L131.2 225.4L128.5 224.7L125.8 223.9L123.1 223.0L120.5 222.1L117.9 221.2L115.3 220.1L112.8 219.0L110.2 217.9L107.8 216.7L105.3 215.4L102.9 214.0L100.5 212.6L98.2 211.1L95.9 209.6L93.6 208.1L91.4 206.5L89.2 204.8L87.1 203.1L85.0 201.4L82.9 199.6L80.9 197.8L78.9 195.9L76.9 194.0L75.0 192.0L73.1 190.0L71.3 188.0L69.5 185.9L67.8 183.8L66.0 181.7L64.3 179.6L62.6 177.4L60.9 175.2L59.2 173.0L57.6 170.8L56.0 168.5L54.4 166.1L52.9 163.8L51.4 161.3L50.1 158.8L48.8 156.3L47.6 153.7L46.5 151.1L45.5 148.4L44.6 145.7L43.8 142.9L43.1 140.1L42.4 137.4L41.8 134.5L41.3 131.7L40.8 128.8L40.4 126.0L38.5 123.1L38.1 120.2L37.8 117.2L37.5 114.3L37.4 111.3L37.4 108.3L37.5 105.3L37.8 102.3L38.2 99.4L38.8 96.4L39.5 93.5L40.3 90.6L41.2 87.8L42.2 84.9L43.3 82.2L44.5 79.4L45.8 76.8L47.3 74.2L48.9 71.6L50.6 69.2L53.8 67.6L55.7 65.4L57.7 63.2L59.7 61.1L61.7 59.0L63.7 57.0L65.8 55.0L67.8 53.1L69.9 51.2L71.9 49.3L74.0 47.4L76.1 45.6L78.3 43.9L80.4 42.1L82.6 40.4L84.8 38.8L87.0 37.2L89.3 35.7L91.6 34.2L93.9 32.7L96.2 31.3L98.6 29.9L100.9 28.6L103.4 27.3L105.8 26.1L108.3 24.9L110.8 23.8L113.3 22.7L115.8 21.8L118.4 20.8L121.0 19.9L123.6 19.1L126.2 18.3L128.9 17.5L131.5 16.8L134.2 16.1L136.9 15.4L139.6 14.7L142.3 14.1L145.1 13.5L147.9 13.1L150.7 12.7L153.5 12.5L156.3 12.4L159.2 12.4L162.0 12.6L164.8 13.0L167.6 13.4L170.4 13.9L173.2 14.5L175.9 15.1L178.7 15.8L181.4 16.5L184.2 17.2L186.9 18.0L189.6 18.8L192.4 19.6L195.1 20.5L197.8 21.4L200.6 22.3L203.3 23.3L206.8 23.0L209.5 24.2L212.2 25.4L214.9 26.8L217.5 28.2L220.1 29.7L222.7 31.3L225.1 33.1L227.3 35.1L229.4 37.3L231.3 39.6L233.1 42.0L234.9 44.4L236.7 46.8L238.4 49.2L240.0 51.7L241.6 54.1L243.2 56.6L243.5 59.9L245.0 62.4L246.4 65.0L247.7 67.6L248.8 70.2L249.8 72.9L250.6 75.7L251.4 78.5L252.0 81.3L252.6 84.1L253.0 87.0L253.4 89.8L253.7 92.6L254.0 95.4L254.3 98.2L254.5 101.0L254.7 103.7L254.9 106.5L255.0 109.2L255.0 112.0L255.0 114.7L255.0 117.5L254.8 120.2Z" fill="#00f0ff" fill-rule="evenodd" stroke="#000" stroke-width="0.3" stroke-opacity="0.45"/>
<path d="M265.4 120.2L263.7 100.3L258.5 81.0L250.0 62.9L238.6 46.5L224.4 32.3L208.1 20.9L189.9 12.4L170.6 7.2L150.7 5.5L130.8 7.2L111.5 12.4L93.4 20.9L77.0 32.3L62.8 46.5L51.4 62.9L42.9 81.0L37.7 100.3L36.0 120.2L37.7 140.1L42.9 159.4L51.4 177.6L62.8 193.9L77.0 208.1L93.3 219.5L111.5 228.0L130.8 233.2L150.7 234.9L170.6 233.2L189.9 228.0L208.1 219.5L224.4 208.1L238.6 193.9L250.0 177.6L258.5 159.4L263.7 140.1ZM255.9 123.0L255.7 125.7L255.4 128.4L255.0 131.2L254.6 133.9L254.2 136.6L253.7 139.3L253.2 142.0L252.7 144.7L252.1 147.4L251.5 150.1L250.9 152.8L250.3 155.5L249.6 158.2L248.8 160.9L248.1 163.6L247.3 166.3L246.5 169.0L245.6 171.7L244.6 174.4L243.5 177.1L242.3 179.7L241.0 182.2L239.5 184.7L238.0 187.2L236.4 189.6L234.6 191.9L232.8 194.2L231.0 196.4L230.1 199.6L228.1 201.8L226.0 203.8L223.9 205.9L221.7 207.9L219.5 209.8L217.2 211.7L214.8 213.5L212.4 215.2L210.0 216.9L207.5 218.5L204.9 220.1L202.4 221.6L199.8 223.1L197.1 224.5L194.4 225.7L191.7 226.9L188.8 227.9L186.0 228.8L183.1 229.6L180.2 230.2L177.2 230.8L174.3 231.2L171.3 231.5L168.4 231.7L165.4 231.9L162.4 232.0L159.4 230.5L156.5 230.4L153.6 230.2L150.7 229.9L147.8 229.6L145.0 229.2L142.2 228.7L139.3 228.2L136.6 227.6L133.8 227.0L131.0 226.3L128.3 225.6L125.6 224.8L122.9 223.9L120.2 223.0L117.6 222.1L115.0 221.0L112.4 219.9L109.9 218.8L107.4 217.6L104.9 216.3L102.4 214.9L100.0 213.5L97.7 212.1L95.3 210.6L93.0 209.0L90.8 207.4L88.5 205.8L86.4 204.1L84.2 202.3L82.1 200.6L80.0 198.7L77.9 196.9L75.9 195.0L73.9 193.0L72.0 191.0L70.1 189.0L68.3 186.9L66.4 184.9L64.6 182.7L62.8 180.6L61.1 178.4L59.3 176.2L57.6 174.0L55.9 171.7L54.2 169.4L52.5 167.0L50.9 164.6L49.4 162.2L48.0 159.6L46.7 157.0L44.0 154.9L42.8 152.2L41.8 149.4L40.9 146.6L40.0 143.7L39.3 140.9L38.6 138.0L38.0 135.0L37.5 132.1L37.0 129.2L36.5 126.2L36.1 123.2L35.8 120.2L35.5 117.2L35.3 114.2L35.3 111.1L35.3 108.1L35.6 105.0L36.0 102.0L36.7 99.1L37.6 96.2L38.5 93.3L39.4 90.4L40.3 87.5L41.2 84.6L42.1 81.7L43.2 78.9L44.5 76.2L46.0 73.6L47.6 71.0L49.3 68.5L51.2 66.2L53.2 63.9L56.5 62.5L58.5 60.3L60.6 58.3L62.6 56.2L64.7 54.2L66.8 52.2L68.9 50.3L71.0 48.4L73.1 46.6L75.3 44.8L77.4 43.0L79.6 41.2L81.8 39.5L84.0 37.9L86.3 36.3L88.6 34.7L90.9 33.2L93.3 31.7L95.6 30.3L98.0 28.9L100.4 27.6L102.8 26.3L105.3 25.0L107.8 23.9L110.3 22.7L112.9 21.6L115.4 20.6L118.0 19.6L120.6 18.7L123.3 17.8L125.9 16.9L128.6 16.0L131.2 15.2L133.9 14.4L136.7 13.6L139.4 12.8L142.2 12.0L145.0 11.4L147.8 10.8L150.7 10.4L153.6 10.1L156.5 9.9L159.4 9.9L162.4 8.6L165.3 9.0L168.3 9.4L171.1 9.9L174.0 10.5L176.9 11.1L179.7 11.8L182.6 12.5L185.4 13.3L188.3 14.1L191.1 14.9L194.0 15.8L196.8 16.7L199.6 17.6L202.5 18.6L205.3 19.6L208.1 20.7L210.9 21.9L213.7 23.2L216.4 24.6L219.0 26.1L221.7 27.7L224.2 29.4L226.6 31.4L228.7 33.5L230.7 35.8L232.6 38.3L234.3 40.8L236.0 43.4L237.7 45.9L239.3 48.4L240.9 51.0L242.5 53.5L244.1 56.0L245.6 58.5L247.1 61.1L248.6 63.7L249.9 66.3L251.0 69.1L252.1 71.8L251.6 75.3L252.4 78.1L253.0 80.9L253.6 83.8L254.1 86.6L254.4 89.5L254.8 92.3L255.1 95.1L255.4 97.9L255.6 100.8L255.8 103.5L256.0 106.3L256.1 109.1L256.2 111.9L256.2 114.7L256.2 117.4L256.1 120.2Z" fill="#00b4ff" fill-rule="evenodd" stroke="#000" stroke-width="0.3" stroke-opacity="0.45"/>
<path d="M265.4 120.2L263.7 100.3L258.5 81.0L250.0 62.9L238.6 46.5L224.4 32.3L208.1 20.9L189.9 12.4L170.6 7.2L150.7 5.5L130.8 7.2L111.5 12.4L93.4 20.9L77.0 32.3L62.8 46.5L51.4 62.9L42.9 81.0L37.7 100.3L36.0 120.2L37.7 140.1L42.9 159.4L51.4 177.6L62.8 193.9L77.0 208.1L93.3 219.5L111.5 228.0L130.8 233.2L150.7 234.9L170.6 233.2L189.9 228.0L208.1 219.5L224.4 208.1L238.6 193.9L250.0 177.6L258.5 159.4L263.7 140.1ZM257.2 123.0L257.0 125.8L256.7 128.5L256.4 131.3L256.0 134.1L255.6 136.8L255.2 139.6L254.7 142.3L254.2 145.1L253.7 147.8L253.1 150.5L252.5 153.3L251.9 156.0L251.2 158.8L250.5 161.5L249.8 164.3L249.0 167.1L248.2 169.9L247.3 172.7L246.3 175.4L246.5 178.9L245.2 181.6L243.9 184.2L242.4 186.8L240.8 189.3L239.1 191.8L237.3 194.2L235.4 196.5L233.5 198.8L231.5 201.0L229.5 203.2L227.3 205.3L225.2 207.4L222.9 209.4L220.6 211.3L218.3 213.2L215.9 215.0L213.4 216.8L210.9 218.4L208.3 220.1L205.8 221.6L203.1 223.1L200.5 224.5L197.8 225.9L195.0 227.1L192.2 228.2L189.3 229.2L186.4 230.0L183.4 230.8L180.5 231.4L177.5 231.8L174.5 232.2L171.5 232.5L168.5 232.7L165.5 232.8L162.5 232.9L159.6 232.9L156.6 232.8L153.6 232.6L150.7 230.8L147.8 230.5L144.9 230.1L142.1 229.6L139.3 229.1L136.4 228.5L133.6 227.9L130.9 227.2L128.1 226.4L125.4 225.7L122.7 224.8L120.0 223.9L117.3 223.0L114.7 221.9L112.1 220.9L109.5 219.7L106.9 218.5L104.4 217.2L102.0 215.9L99.5 214.5L97.1 213.0L94.8 211.5L92.4 209.9L90.1 208.3L87.9 206.7L85.6 205.0L83.4 203.3L81.2 201.5L79.1 199.7L77.0 197.9L74.9 196.0L72.9 194.0L70.9 192.1L68.9 190.0L67.0 188.0L65.1 185.9L63.2 183.7L61.4 181.6L59.5 179.4L57.7 177.2L55.9 174.9L54.1 172.6L52.4 170.3L49.3 168.6L47.6 166.1L46.0 163.6L44.5 161.0L43.1 158.3L41.8 155.6L40.6 152.8L39.5 150.0L38.6 147.1L37.7 144.2L37.0 141.3L36.3 138.3L35.6 135.3L35.1 132.4L34.6 129.3L34.2 126.3L33.8 123.3L33.5 120.2L33.3 117.1L33.1 114.0L33.3 111.0L34.1 107.9L34.9 105.0L35.7 102.0L36.7 99.1L37.6 96.2L38.5 93.3L39.4 90.4L40.3 87.5L41.2 84.6L42.1 81.7L43.0 78.9L43.9 76.0L44.9 73.1L46.3 70.4L48.0 67.9L49.9 65.5L51.9 63.2L54.0 60.9L56.1 58.7L58.2 56.6L61.5 55.4L63.6 53.4L65.8 51.4L67.9 49.5L70.0 47.6L72.2 45.7L74.4 43.9L76.6 42.1L78.8 40.3L81.0 38.6L83.3 37.0L85.6 35.4L87.9 33.8L90.3 32.3L92.6 30.8L95.0 29.3L97.4 27.9L99.9 26.6L102.3 25.3L104.8 24.0L107.3 22.8L109.9 21.6L112.4 20.5L115.0 19.4L117.6 18.4L120.2 17.4L122.9 16.4L125.6 15.5L128.2 14.5L130.9 13.6L133.7 12.7L136.4 11.8L139.2 10.9L142.0 10.0L144.8 7.8L147.7 7.1L150.7 6.6L153.7 6.2L156.7 6.0L159.7 5.9L162.7 6.1L165.7 6.4L168.7 6.8L171.6 7.3L174.6 7.9L177.5 8.6L180.4 9.3L183.3 10.0L186.3 10.8L189.2 11.6L192.1 12.4L195.0 13.3L197.9 14.2L200.8 15.2L203.7 16.2L206.6 17.3L209.5 18.4L212.3 19.7L215.1 21.0L217.8 22.5L220.5 24.1L222.9 26.1L225.1 28.4L227.2 30.7L229.2 33.0L231.2 35.3L233.2 37.7L235.0 40.2L236.9 42.6L238.7 45.0L240.3 47.6L241.8 50.3L243.4 52.9L244.9 55.4L246.5 58.0L248.0 60.6L249.5 63.2L250.8 65.9L252.0 68.6L253.0 71.4L254.0 74.2L254.8 77.1L255.4 80.0L254.6 83.4L255.1 86.3L255.5 89.2L255.8 92.0L256.2 94.9L256.5 97.7L256.7 100.5L256.9 103.4L257.1 106.2L257.2 109.0L257.3 111.8L257.4 114.6L257.4 117.4L257.3 120.2Z" fill="#0078ff" fill-rule="evenodd" stroke="#000" stroke-width="0.3" stroke-opacity="0.45"/>
<path d="M265.4 120.2L263.7 100.3L258.5 81.0L250.0 62.9L238.6 46.5L224.4 32.3L208.1 20.9L189.9 12.4L170.6 7.2L150.7 5.5L130.8 7.2L111.5 12.4L93.4 20.9L77.0 32.3L62.8 46.5L51.4 62.9L42.9 81.0L37.7 100.3L36.0 120.2L37.7 140.1L42.9 159.4L51.4 177.6L62.8 193.9L77.0 208.1L93.3 219.5L111.5 228.0L130.8 233.2L150.7 234.9L170.6 233.2L189.9 228.0L208.1 219.5L224.4 208.1L238.6 193.9L250.0 177.6L258.5 159.4L263.7 140.1ZM258.4 123.0L258.2 125.8L258.0 128.6L257.7 131.5L257.4 134.3L257.1 137.0L256.7 139.8L256.2 142.6L255.7 145.4L255.2 148.2L254.6 151.0L254.1 153.8L253.5 156.6L252.8 159.4L252.1 162.2L251.4 165.0L252.0 168.5L251.2 171.4L250.4 174.3L249.4 177.2L248.2 180.0L247.0 182.7L245.6 185.4L244.1 188.0L242.4 190.6L240.7 193.1L238.9 195.5L236.9 197.9L235.0 200.2L232.9 202.4L230.8 204.6L228.7 206.8L226.4 208.9L224.1 210.9L221.8 212.9L219.4 214.7L216.9 216.6L214.4 218.3L211.8 220.0L209.2 221.6L206.6 223.1L203.9 224.6L201.0 225.7L198.1 226.7L195.2 227.7L192.3 228.6L189.4 229.4L186.4 230.2L183.5 230.9L180.6 231.6L177.6 232.3L174.7 232.9L171.7 233.5L168.7 233.7L165.7 233.8L162.6 233.8L159.6 233.8L156.6 233.7L153.7 233.5L150.7 233.2L147.7 232.9L144.8 232.5L142.0 230.5L139.2 230.0L136.3 229.4L133.5 228.8L130.7 228.1L127.9 227.3L125.2 226.5L122.4 225.7L119.7 224.8L117.0 223.9L114.4 222.8L111.7 221.8L109.1 220.6L106.5 219.4L104.0 218.1L101.5 216.8L99.0 215.4L96.6 213.9L94.2 212.4L91.8 210.9L89.5 209.3L87.2 207.6L84.9 206.0L82.6 204.2L80.4 202.5L78.2 200.7L76.0 198.9L73.9 197.0L71.8 195.0L69.8 193.1L67.8 191.0L65.8 189.0L63.8 186.9L61.9 184.7L59.9 182.6L58.0 180.4L54.9 178.9L53.0 176.6L51.1 174.3L49.2 171.9L47.4 169.5L45.7 167.0L44.0 164.4L42.4 161.8L41.0 159.1L39.6 156.3L38.4 153.5L37.3 150.6L36.3 147.7L35.4 144.7L34.6 141.7L33.9 138.7L33.3 135.7L32.7 132.6L32.2 129.5L31.8 126.4L31.6 123.3L31.8 120.2L32.2 117.1L32.7 114.0L33.3 111.0L34.1 107.9L34.9 105.0L35.7 102.0L36.7 99.1L37.6 96.2L38.5 93.3L39.4 90.4L40.3 87.5L41.2 84.6L42.1 81.7L43.0 78.9L43.9 76.0L44.9 73.1L45.8 70.2L46.9 67.3L48.6 64.8L50.7 62.5L52.8 60.2L54.9 58.0L57.0 55.8L59.2 53.7L61.4 51.7L64.7 50.6L66.9 48.6L69.1 46.7L71.3 44.8L73.5 43.0L75.7 41.2L78.0 39.4L80.2 37.7L82.6 36.0L84.9 34.4L87.2 32.9L89.6 31.3L92.0 29.8L94.4 28.4L96.9 27.0L99.3 25.6L101.8 24.3L104.3 23.0L106.9 21.8L109.4 20.5L112.0 19.4L114.6 18.3L117.2 17.2L119.9 16.1L122.5 15.1L125.2 14.1L127.9 13.0L130.7 12.0L133.4 11.0L136.0 8.5L138.9 7.5L141.8 6.5L144.7 5.6L147.7 4.9L150.7 4.3L153.7 3.8L156.8 3.5L159.9 3.4L163.0 3.5L166.0 3.9L169.1 4.3L172.1 4.8L175.1 5.4L178.1 6.0L181.1 6.7L184.1 7.5L187.1 8.3L190.1 9.1L193.0 9.9L196.0 10.8L199.0 11.8L201.9 12.8L204.9 13.8L207.9 14.9L210.8 16.1L213.4 18.0L215.8 19.9L218.3 21.9L220.6 24.0L222.9 26.1L225.1 28.4L227.2 30.7L229.2 33.0L231.2 35.3L233.2 37.7L235.0 40.2L236.9 42.6L238.7 45.0L240.5 47.5L242.3 49.9L244.0 52.4L245.7 54.9L247.3 57.4L248.9 60.0L250.4 62.7L251.7 65.4L252.9 68.1L254.0 70.9L254.9 73.8L255.7 76.7L256.5 79.6L257.0 82.5L257.5 85.5L256.5 88.9L256.9 91.7L257.2 94.6L257.5 97.5L257.8 100.3L258.0 103.2L258.2 106.0L258.4 108.9L258.5 111.7L258.5 114.5L258.6 117.4L258.5 120.2Z" fill="#0028ff" fill-rule="evenodd" stroke="#000" stroke-width="0.3" stroke-opacity="0.45"/>
<path d="M44.3 85.8L44.4 86.3L44.7 87.1L45.0 88.1L45.3 89.1L45.7 90.2L46.2 91.1L46.8 91.8L47.5 92.5L48.2 93.1L48.9 93.7L49.7 94.2L50.5 94.6L51.3 94.9L52.2 95.3L53.1 95.5L54.0 95.7L55.0 95.8L56.0 95.8L57.1 95.8L58.2 95.6L59.3 95.4L60.4 95.1L61.4 94.8L62.5 94.6L63.5 94.3L64.5 93.9L65.5 93.6L66.5 93.2L67.5 92.9L68.6 92.6L70.0 92.4L71.6 92.1L73.2 91.9L74.8 91.7L76.2 91.5L77.1 91.4L76.9 89.4L75.9 89.5L74.6 89.7L73.0 89.9L71.3 90.1L69.6 90.3L68.2 90.6L67.0 90.9L65.8 91.2L64.8 91.5L63.8 91.9L62.9 92.2L61.9 92.4L60.9 92.7L59.8 93.0L58.8 93.2L57.8 93.4L56.9 93.5L56.0 93.6L55.2 93.5L54.4 93.4L53.6 93.2L52.9 93.0L52.2 92.7L51.5 92.4L50.9 92.1L50.3 91.7L49.7 91.2L49.2 90.8L48.7 90.3L48.4 89.7L48.0 89.1L47.7 88.3L47.4 87.3L47.1 86.4L46.9 85.6L46.7 85.0Z" fill="#08d8b4"/>
<path d="M77.1 91.4L78.0 91.3L79.2 91.2L80.7 91.0L82.4 90.9L84.1 90.8L85.8 90.7L87.6 90.7L89.5 90.7L91.5 90.8L93.6 90.9L95.7 91.0L97.9 91.2L100.1 91.5L102.4 91.9L104.8 92.3L107.2 92.8L109.5 93.2L111.8 93.7L114.1 94.3L116.3 94.8L118.5 95.4L120.7 96.0L122.8 96.6L124.8 97.2L126.8 97.7L128.9 98.3L130.9 98.8L132.7 99.3L134.2 99.8L135.3 100.1L135.7 98.9L134.6 98.6L133.0 98.1L131.2 97.6L129.3 97.0L127.2 96.4L125.2 95.8L123.2 95.3L121.1 94.7L118.9 94.0L116.7 93.4L114.4 92.8L112.2 92.3L109.9 91.7L107.5 91.2L105.1 90.7L102.7 90.3L100.4 89.9L98.1 89.6L95.9 89.3L93.7 89.1L91.6 89.0L89.6 88.9L87.6 88.9L85.8 88.9L84.0 88.9L82.2 89.0L80.6 89.1L79.1 89.2L77.8 89.3L76.9 89.4Z" fill="#12c83c"/>
<path d="M46.4 91.4L46.8 91.7L47.3 92.2L48.0 92.8L48.7 93.5L49.5 94.1L50.4 94.6L51.2 95.0L52.1 95.4L53.0 95.6L54.0 95.8L55.0 96.0L56.0 96.0L57.1 95.9L58.2 95.8L59.3 95.6L60.4 95.3L61.5 95.0L62.5 94.8L63.6 94.5L64.6 94.1L65.6 93.8L66.6 93.4L67.6 93.1L68.7 92.9L70.0 92.6L71.6 92.4L73.3 92.2L74.8 92.0L76.2 91.8L77.2 91.7" fill="none" stroke="#101810" stroke-width="1.0" stroke-linecap="round"/>
<path d="M247.9 67.9L247.5 67.1L246.8 65.9L246.0 64.6L245.1 63.1L244.2 61.7L243.4 60.4L242.7 59.3L242.0 58.3L241.3 57.3L240.6 56.3L239.9 55.3L239.2 54.3L238.4 53.3L237.6 52.2L236.8 51.1L235.9 50.1L235.1 49.0L234.2 48.1L233.4 47.1L232.6 46.2L231.7 45.3L230.9 44.5L230.0 43.8L229.1 43.2L228.2 42.9L227.3 42.7L226.4 42.8L225.6 43.0L224.9 43.3L224.2 43.7L223.5 44.2L222.9 44.9L222.4 45.6L221.9 46.4L221.4 47.3L221.0 48.2L220.6 49.1L220.3 50.1L220.0 51.2L219.7 52.3L219.4 53.4L219.1 54.5L218.8 55.8L218.5 57.3L218.1 58.7L217.8 60.1L217.5 61.3L217.3 62.2L219.5 62.6L219.7 61.8L219.9 60.6L220.3 59.2L220.6 57.8L220.9 56.3L221.3 55.1L221.6 53.9L221.8 52.8L222.1 51.8L222.4 50.8L222.7 49.9L223.0 49.0L223.4 48.3L223.8 47.5L224.2 46.9L224.6 46.3L225.0 45.8L225.4 45.5L225.9 45.2L226.3 45.1L226.7 45.0L227.2 44.9L227.6 45.0L228.1 45.2L228.7 45.5L229.4 46.1L230.1 46.9L230.9 47.7L231.8 48.6L232.6 49.5L233.4 50.5L234.2 51.4L235.0 52.5L235.8 53.6L236.6 54.6L237.4 55.7L238.2 56.6L238.8 57.6L239.5 58.6L240.2 59.5L240.9 60.5L241.6 61.6L242.3 62.8L243.2 64.2L244.1 65.7L244.9 67.1L245.6 68.2L246.1 69.1Z" fill="#08d0b0"/>
<path d="M217.3 61.9L216.9 62.9L216.4 64.3L215.7 65.8L215.0 67.5L214.3 69.1L213.7 70.6L213.0 71.9L212.3 73.1L211.6 74.4L210.9 75.6L210.1 76.7L209.4 77.9L208.7 79.0L208.0 80.0L207.4 81.0L206.7 82.0L205.9 83.1L205.0 84.4L203.8 85.9L202.3 87.8L200.8 89.8L199.3 91.6L198.1 93.2L197.2 94.4L198.8 95.6L199.7 94.5L200.9 92.9L202.4 91.0L204.0 89.1L205.4 87.2L206.6 85.6L207.6 84.3L208.4 83.2L209.1 82.2L209.8 81.2L210.5 80.2L211.2 79.1L212.0 77.9L212.7 76.7L213.5 75.5L214.3 74.3L215.0 73.0L215.7 71.6L216.5 70.1L217.2 68.4L217.9 66.7L218.6 65.1L219.1 63.8L219.5 62.9Z" fill="#1ce048"/>
<path d="M197.2 94.3L196.4 95.4L195.2 96.8L193.7 98.4L192.2 100.2L190.7 101.9L189.3 103.4L188.1 104.6L187.0 105.8L185.9 107.0L184.7 108.1L183.6 109.2L182.4 110.4L181.1 111.6L179.6 113.0L178.0 114.3L176.6 115.6L175.4 116.6L174.5 117.4L175.5 118.6L176.4 117.9L177.6 116.8L179.1 115.6L180.7 114.2L182.2 112.9L183.6 111.6L184.8 110.5L186.0 109.4L187.1 108.3L188.3 107.1L189.5 105.9L190.7 104.6L192.1 103.1L193.6 101.5L195.2 99.7L196.6 98.1L197.9 96.7L198.8 95.7Z" fill="#10d0a8"/>
<path d="M223.6 43.7L223.3 44.1L222.9 44.6L222.3 45.3L221.7 46.1L221.1 47.0L220.6 48.0L220.2 49.0L219.9 50.0L219.6 51.1L219.3 52.2L219.0 53.3L218.7 54.4L218.5 55.6L218.2 56.9L218.0 58.1L217.7 59.4L217.4 60.7L217.0 61.9L216.5 63.3L215.8 65.0L215.1 66.6L214.4 68.2L213.8 69.5L213.3 70.5" fill="none" stroke="#101810" stroke-width="1.1" stroke-linecap="round"/>
<path d="M248.2 67.8L247.7 67.0L247.0 65.8L246.2 64.4L245.3 62.9L244.5 61.5L243.7 60.2L243.0 59.1L242.3 58.1L241.6 57.1L240.9 56.1L240.2 55.2L239.4 54.2L238.6 53.1L237.8 52.0L237.0 51.0L236.1 49.9L235.3 48.8L234.5 47.9L233.6 46.9L232.8 46.0L231.9 45.1L231.1 44.3L230.2 43.5L229.2 42.9L228.1 42.6L227.0 42.6L226.1 42.8L225.3 43.0L224.8 43.2L224.5 43.2" fill="none" stroke="#0c9c48" stroke-width="1.1" stroke-linecap="round"/>
<path d="M175.1 228.2L175.4 228.0L175.8 227.6L176.3 227.2L176.9 226.7L177.5 226.0L177.9 225.3L178.2 224.5L178.5 223.7L178.7 222.9L178.8 221.9L178.7 221.0L178.6 220.0L178.2 219.0L177.7 218.2L177.2 217.3L176.5 216.5L175.9 215.6L175.2 214.7L174.5 213.7L173.7 212.7L172.8 211.7L171.9 210.6L171.0 209.5L170.2 208.5L169.3 207.5L168.6 206.6L167.8 205.7L167.0 204.7L166.2 203.6L165.3 202.4L164.1 200.8L162.8 198.9L161.4 196.8L160.1 194.8L158.9 193.1L158.1 191.9L156.5 193.1L157.3 194.3L158.4 195.9L159.7 197.9L161.1 200.0L162.4 202.0L163.5 203.6L164.5 204.9L165.4 206.0L166.1 207.0L166.9 208.0L167.7 208.9L168.4 209.9L169.3 211.0L170.2 212.0L171.0 213.1L171.9 214.1L172.7 215.1L173.4 216.1L174.0 217.0L174.7 217.8L175.2 218.6L175.7 219.4L176.0 220.0L176.2 220.6L176.3 221.2L176.3 221.8L176.2 222.4L176.1 223.1L175.9 223.7L175.7 224.1L175.5 224.5L175.1 224.9L174.7 225.3L174.2 225.6L173.8 225.9L173.5 226.2Z" fill="#08d0b0"/>
<path d="M158.2 192.0L157.5 190.7L156.5 189.0L155.3 186.9L154.1 184.6L152.9 182.2L151.8 179.7L150.9 177.0L150.0 174.1L149.1 170.9L148.2 167.8L147.5 164.7L146.7 161.8L146.1 159.0L145.5 156.2L144.9 153.5L144.4 151.0L144.0 148.7L143.6 146.9L143.3 145.5L143.0 144.6L142.9 143.9L142.7 143.5L142.6 143.2L142.5 142.9L141.5 143.1L141.6 143.5L141.7 143.8L141.8 144.2L141.9 144.8L142.1 145.8L142.4 147.1L142.7 148.9L143.1 151.2L143.6 153.8L144.1 156.5L144.6 159.4L145.3 162.2L146.0 165.1L146.7 168.2L147.5 171.4L148.4 174.5L149.3 177.5L150.2 180.3L151.2 182.9L152.4 185.4L153.6 187.8L154.8 189.9L155.7 191.7L156.4 193.0Z" fill="#12c83c"/>
<path d="M176.0 221.1L175.7 220.6L175.3 219.9L174.8 219.1L174.2 218.2L173.6 217.2L173.0 216.3L172.3 215.4L171.5 214.4L170.7 213.4L169.8 212.3L168.9 211.3L168.1 210.2L167.2 209.1L166.2 207.9L165.3 206.7L164.4 205.6L163.7 204.7L163.1 204.0" fill="none" stroke="#101810" stroke-width="1.3" stroke-linecap="round"/>
<path d="M69.6 92.0C70.8 91.8 74.3 91.1 77.0 90.8C79.7 90.5 82.3 90.2 85.8 90.2C89.3 90.2 93.6 90.3 98.0 90.8C102.4 91.3 107.5 92.4 112.0 93.4C116.5 94.4 121.1 95.8 125.0 96.9C128.9 98.0 133.8 99.4 135.5 99.9" fill="none" stroke="#111" stroke-width="1.1" stroke-dasharray="2.6 2.8"/>
<path d="M83.5 36.0C83.9 36.7 83.7 39.1 86.0 40.0C88.3 40.9 92.9 41.1 97.3 41.2C101.7 41.3 108.0 40.1 112.2 40.4C116.4 40.7 118.9 41.6 122.2 43.0C125.5 44.4 128.9 46.1 132.2 48.7C135.5 51.3 139.3 56.1 142.0 58.6C144.7 61.1 146.6 61.3 148.5 64.0C150.4 66.7 152.4 71.1 153.5 75.0C154.6 78.9 154.7 83.6 154.8 87.3C154.9 91.0 154.4 95.4 154.3 97.0" fill="none" stroke="#111" stroke-width="1.1" stroke-dasharray="2.6 2.8"/>
<path d="M222.0 50.0C220.9 52.5 217.9 60.4 215.5 65.0C213.1 69.6 210.2 72.7 207.3 77.4C204.4 82.2 200.9 89.2 198.0 93.5C195.1 97.8 192.5 100.7 190.0 103.5C187.5 106.3 185.3 108.2 183.0 110.5C180.7 112.8 177.2 115.9 176.0 117.0" fill="none" stroke="#111" stroke-width="1.1" stroke-dasharray="2.6 2.8"/>
<path d="M258.5 105.0C257.7 105.2 255.4 104.8 253.5 106.0C251.6 107.2 249.2 110.0 247.3 112.3C245.4 114.6 244.0 117.0 242.3 120.0C240.7 123.0 239.9 126.9 237.4 130.0C234.9 133.1 231.1 136.2 227.4 138.7C223.7 141.2 219.6 143.4 215.0 145.0C210.4 146.6 204.2 147.6 200.0 148.0C195.8 148.4 193.0 148.0 190.0 147.5C187.0 147.0 184.8 146.5 182.2 145.0C179.6 143.5 176.4 140.4 174.7 138.7C173.0 137.0 172.6 135.6 172.2 135.0" fill="none" stroke="#111" stroke-width="1.1" stroke-dasharray="2.6 2.8"/>
<path d="M130.0 133.0C128.3 133.4 123.3 134.3 120.0 135.5C116.7 136.7 113.3 137.2 110.0 140.0C106.7 142.8 102.3 147.8 100.0 152.0C97.7 156.2 96.7 160.8 96.0 165.0C95.3 169.2 95.6 172.8 96.0 177.0C96.4 181.2 97.4 186.2 98.4 190.0C99.4 193.8 100.6 197.2 102.0 200.0C103.4 202.8 105.6 204.5 107.0 207.0C108.4 209.5 109.9 213.2 110.5 215.0C111.1 216.8 110.8 217.5 110.8 218.0" fill="none" stroke="#111" stroke-width="1.1" stroke-dasharray="2.6 2.8"/>
<path d="M143.5 147.0C144.2 149.5 146.0 156.6 147.5 162.0C149.0 167.4 150.6 174.5 152.5 179.5C154.4 184.5 156.6 188.0 158.8 191.8C161.1 195.6 164.0 199.5 166.0 202.3C168.0 205.1 169.3 206.5 171.0 208.5C172.7 210.5 174.3 212.3 176.0 214.5C177.7 216.7 180.2 220.3 181.0 221.5" fill="none" stroke="#111" stroke-width="1.1" stroke-dasharray="2.6 2.8"/>
<path d="M84.5 35.4A107.6 107.6 0 0 1 223.4 40.9" fill="none" stroke="#111" stroke-width="1.3" stroke-dasharray="2.4 3.4"/>
<path d="M257.3 105.2A107.6 107.6 0 0 1 184.0 222.5" fill="none" stroke="#111" stroke-width="1.3" stroke-dasharray="2.4 3.4"/>
<path d="M110.4 220.0A107.6 107.6 0 0 1 47.8 88.7" fill="none" stroke="#111" stroke-width="1.3" stroke-dasharray="2.4 3.4"/>
</g>
<circle cx="151.0" cy="120.8" r="23.0" fill="#fff" stroke="#222" stroke-width="0.8"/>
<clipPath id="clip2"><ellipse cx="420.0" cy="120.3" rx="111.2" ry="110.3"/></clipPath>
<g clip-path="url(#clip2)">
<rect x="300" y="0" width="240" height="242" fill="#f6ff00"/>
<path d="M486.8 120.5C486.8 115.1 487.5 106.8 487.4 102.4C487.3 97.9 487.7 96.3 486.1 93.7C484.5 91.2 480.4 88.7 477.8 87.0C475.3 85.3 472.5 84.5 470.8 83.5C469.1 82.5 467.6 81.1 467.6 81.1C467.6 81.1 472.0 75.1 472.0 75.1C472.0 75.1 468.0 68.0 464.7 65.1C461.3 62.1 457.4 59.7 451.9 57.4C446.5 55.1 438.6 52.3 432.0 51.2C425.4 50.0 418.7 49.8 412.4 50.5C406.2 51.1 400.5 52.7 394.7 55.1C388.9 57.4 383.3 61.2 377.8 64.8C372.3 68.3 365.3 74.0 361.5 76.6C357.7 79.1 357.8 78.6 355.2 80.1C352.5 81.7 348.0 84.2 345.5 85.8C342.9 87.5 340.3 88.0 339.8 89.8C339.3 91.6 341.1 94.3 342.3 96.8C343.6 99.4 346.5 101.2 347.4 105.1C348.4 109.1 347.0 113.9 348.0 120.5C349.0 127.1 350.1 137.4 353.4 144.7C356.6 152.0 361.8 159.3 367.7 164.2C373.6 169.1 382.8 171.5 388.8 174.2C394.8 176.9 399.6 177.7 403.8 180.4C407.9 183.1 409.9 187.9 413.7 190.2C417.4 192.5 422.7 193.9 426.2 194.2C429.8 194.5 435.0 191.9 435.0 191.9C435.0 191.9 434.8 180.7 434.8 180.7C434.8 180.7 446.6 179.6 452.8 177.7C459.0 175.7 466.9 172.0 471.7 168.9C476.5 165.8 479.2 162.8 481.7 159.2C484.2 155.6 485.6 151.5 486.6 147.5C487.5 143.4 487.3 139.3 487.3 134.8C487.3 130.4 486.8 125.9 486.8 120.5Z" fill="#b8ff00" stroke="#000" stroke-width="0.40" stroke-opacity="0.60"/>
<path d="M479.4 120.5C479.9 115.2 480.5 108.1 480.7 104.2C480.8 100.3 481.6 99.3 480.5 97.2C479.3 95.2 475.9 93.1 473.7 91.9C471.4 90.7 468.6 90.4 466.8 90.0C464.9 89.6 462.7 89.3 462.7 89.3C462.7 89.3 464.2 86.4 464.2 86.4C464.2 86.4 462.8 84.6 460.8 82.3C458.7 80.0 456.1 75.4 452.2 72.5C448.3 69.6 442.6 66.6 437.2 64.9C431.8 63.1 425.6 61.9 419.8 61.9C414.0 61.9 407.7 63.1 402.3 64.9C396.9 66.7 391.6 70.3 387.4 72.4C383.1 74.5 379.5 75.8 376.7 77.4C373.8 78.9 372.8 80.2 370.2 81.7C367.5 83.2 363.7 85.2 360.9 86.5C358.2 87.8 354.5 87.7 353.6 89.6C352.7 91.6 354.6 95.4 355.5 98.4C356.4 101.4 358.3 103.9 359.2 107.6C360.0 111.3 359.8 114.9 360.4 120.5C361.0 126.1 361.5 136.5 362.9 141.2C364.4 145.9 366.8 146.0 369.1 148.6C371.3 151.2 373.8 154.2 376.5 156.8C379.3 159.4 382.4 161.8 385.6 164.2C388.9 166.6 392.3 169.6 396.1 171.3C399.9 172.9 404.4 173.6 408.4 174.3C412.3 175.0 416.0 175.3 419.8 175.5C423.6 175.7 426.5 175.9 431.4 175.3C436.4 174.6 443.9 173.9 449.3 171.6C454.7 169.3 459.6 164.8 463.7 161.4C467.7 158.1 471.1 155.7 473.5 151.5C475.8 147.3 476.8 141.2 477.8 136.0C478.7 130.9 478.9 125.8 479.4 120.5Z" fill="#62fa0c" stroke="#000" stroke-width="0.40" stroke-opacity="0.60"/>
<path d="M470.8 120.5C471.4 115.9 472.6 109.6 472.9 106.3C473.2 102.9 473.6 101.9 472.5 100.3C471.5 98.7 468.7 97.6 466.6 96.7C464.5 95.7 462.0 95.5 460.1 94.4C458.1 93.3 456.9 92.2 454.8 90.1C452.7 87.9 450.2 83.8 447.3 81.3C444.4 78.7 441.4 76.6 437.3 74.9C433.1 73.2 427.0 71.6 422.4 71.1C417.8 70.6 413.8 71.1 409.8 71.9C405.9 72.8 402.6 74.3 398.5 76.1C394.5 77.9 389.0 81.0 385.7 82.6C382.3 84.2 380.5 84.6 378.4 85.8C376.4 87.0 374.6 87.9 373.3 89.8C372.0 91.8 371.2 94.7 370.9 97.7C370.6 100.6 371.4 103.8 371.5 107.6C371.6 111.4 371.5 115.4 371.6 120.5C371.7 125.6 370.8 133.6 371.9 137.9C372.9 142.3 375.6 144.0 377.8 146.7C380.0 149.4 381.9 151.6 384.9 154.2C387.9 156.7 391.6 159.9 395.8 162.1C400.0 164.2 405.9 166.1 409.9 167.0C413.9 167.9 416.1 167.5 419.8 167.5C423.5 167.5 428.0 167.3 432.2 166.9C436.5 166.4 441.0 166.5 445.3 164.7C449.6 162.9 454.4 158.9 457.8 156.0C461.2 153.0 463.7 150.7 465.7 147.0C467.7 143.3 468.7 138.2 469.5 133.8C470.4 129.4 470.2 125.1 470.8 120.5Z" fill="#10ee2c" stroke="#000" stroke-width="0.40" stroke-opacity="0.60"/>
<path d="M462.8 120.5C461.2 115.2 454.0 107.0 451.6 103.6C449.2 100.2 449.6 101.9 448.4 100.0C447.3 98.1 446.5 94.6 444.6 92.3C442.8 90.0 440.6 87.9 437.3 86.2C434.0 84.5 428.8 83.0 424.7 82.3C420.5 81.7 415.9 81.9 412.4 82.3C408.9 82.7 405.9 83.6 403.5 84.8C401.2 86.1 401.5 87.2 398.5 89.8C395.4 92.4 388.4 95.4 385.2 100.5C381.9 105.6 380.0 114.7 379.0 120.5C378.0 126.3 378.3 131.1 378.9 135.4C379.6 139.7 379.6 142.7 382.9 146.3C386.3 149.9 392.7 154.7 398.8 156.9C404.9 159.1 412.8 159.5 419.8 159.5C426.8 159.5 435.1 158.6 440.8 156.9C446.5 155.2 450.9 153.0 454.3 149.4C457.7 145.9 459.7 140.4 461.1 135.5C462.6 130.7 464.4 125.8 462.8 120.5Z" fill="#00fa9c" stroke="#000" stroke-width="0.40" stroke-opacity="0.60"/>
<path d="M455.8 120.5C454.5 114.8 449.3 110.0 445.8 105.5C442.3 101.0 437.8 96.2 434.7 93.6C431.7 91.0 430.4 90.7 427.4 89.8C424.5 89.0 420.2 89.0 417.0 88.6C413.8 88.2 410.7 87.2 408.4 87.4C406.1 87.6 405.8 87.8 403.5 89.8C401.1 91.8 397.3 94.2 394.5 99.3C391.8 104.4 388.3 115.0 387.0 120.5C385.7 126.0 386.3 128.4 386.9 132.5C387.5 136.5 387.3 141.3 390.7 144.9C394.1 148.6 402.6 152.9 407.5 154.3C412.3 155.8 414.8 154.1 419.8 153.5C424.8 152.9 431.7 153.1 437.3 150.8C442.9 148.6 450.5 145.1 453.6 140.0C456.7 134.9 457.1 126.2 455.8 120.5Z" fill="#00ffd2" stroke="#000" stroke-width="0.40" stroke-opacity="0.60"/>
<path d="M450.8 120.5C449.5 115.0 444.9 108.2 439.7 103.8C434.6 99.4 424.4 96.0 419.8 94.0C415.2 92.0 414.2 91.8 412.0 91.5C409.9 91.3 408.3 91.7 406.7 92.4C405.1 93.1 404.3 93.5 402.6 95.9C400.9 98.4 398.1 102.9 396.4 107.0C394.7 111.1 392.9 115.7 392.3 120.5C391.7 125.3 391.0 131.5 393.0 136.0C395.0 140.5 399.8 145.1 404.3 147.3C408.8 149.6 414.8 149.8 419.8 149.5C424.8 149.2 429.7 147.8 434.3 145.6C438.9 143.4 444.8 140.7 447.5 136.5C450.3 132.3 452.1 126.0 450.8 120.5Z" fill="#00f0ff" stroke="#000" stroke-width="0.40" stroke-opacity="0.60"/>
<path d="M407.0 93.5C407.3 92.6 409.7 92.4 411.0 92.6C412.3 92.8 414.4 93.5 415.0 94.5C415.6 95.5 415.5 97.9 414.5 98.5C413.5 99.1 410.2 99.0 409.0 98.2C407.8 97.4 406.7 94.4 407.0 93.5Z" fill="#00b4ff" stroke="#000" stroke-width="0.40" stroke-opacity="0.60"/>
<path d="M397.5 131.0C398.0 129.2 399.7 130.2 401.0 131.5C402.3 132.8 404.8 136.2 405.5 139.0C406.2 141.8 406.2 146.4 405.5 148.0C404.8 149.6 402.8 149.5 401.5 148.5C400.2 147.5 398.7 144.9 398.0 142.0C397.3 139.1 397.0 132.8 397.5 131.0Z" fill="#00b4ff" stroke="#000" stroke-width="0.40" stroke-opacity="0.60"/>
<path d="M399.0 134.0C399.3 133.2 400.6 133.8 401.5 135.0C402.4 136.2 403.9 139.1 404.3 141.0C404.7 142.9 404.5 145.7 404.0 146.5C403.5 147.3 402.2 147.1 401.5 146.0C400.8 144.9 399.9 142.0 399.5 140.0C399.1 138.0 398.7 134.8 399.0 134.0Z" fill="#0078ff" stroke="#000" stroke-width="0.40" stroke-opacity="0.60"/>
<path d="M444.5 117.0C445.0 115.9 447.1 116.8 448.0 117.5C448.9 118.2 449.9 120.2 450.0 121.5C450.1 122.8 449.3 124.6 448.5 125.0C447.7 125.4 445.7 125.3 445.0 124.0C444.3 122.7 444.0 118.1 444.5 117.0Z" fill="#00b4ff" stroke="#000" stroke-width="0.40" stroke-opacity="0.60"/>
<path d="M314.0 90.0C313.7 87.2 316.3 82.0 318.0 78.0C319.7 74.0 321.5 70.0 324.0 66.0C326.5 62.0 329.7 57.8 333.0 54.0C336.3 50.2 340.0 46.3 344.0 43.0C348.0 39.7 352.3 36.5 357.0 34.0C361.7 31.5 367.3 29.2 372.0 28.0C376.7 26.8 379.9 26.9 385.0 27.0C390.1 27.1 396.6 28.3 402.6 28.8C408.6 29.3 416.8 29.6 421.2 30.2C425.6 30.8 427.7 31.5 429.2 32.2C430.7 33.0 430.3 34.0 430.3 34.7C430.3 35.4 431.1 36.1 429.2 36.6C427.3 37.1 422.1 37.0 418.7 37.8C415.3 38.6 411.9 40.0 408.8 41.5C405.7 43.0 402.9 45.0 400.1 46.5C397.3 48.0 394.5 49.2 392.0 50.5C389.5 51.8 387.3 52.8 385.0 54.0C382.7 55.2 380.2 56.2 378.0 57.5C375.8 58.8 374.1 60.3 371.9 61.9C369.7 63.5 367.2 65.6 364.6 67.0C362.0 68.4 358.6 69.6 356.4 70.5C354.2 71.4 353.0 71.5 351.3 72.5C349.6 73.5 347.5 75.1 346.0 76.5C344.5 77.9 343.4 79.1 342.2 81.0C341.0 82.9 340.1 85.8 339.0 88.0C337.9 90.2 337.7 93.2 335.9 94.5C334.1 95.8 330.6 95.9 328.0 96.0C325.4 96.1 322.3 96.0 320.0 95.0C317.7 94.0 314.3 92.8 314.0 90.0Z" fill="#ffc800" stroke="#000" stroke-width="0.40" stroke-opacity="0.60"/>
<path d="M322.0 93.5C320.6 92.4 320.1 89.4 320.5 87.0C320.9 84.6 322.5 82.0 324.5 79.0C326.5 76.0 330.1 71.8 332.6 69.0C335.1 66.2 337.9 64.5 339.6 62.5C341.3 60.5 341.6 59.1 343.0 57.0C344.4 54.9 346.2 52.3 347.8 50.0C349.4 47.7 350.7 45.4 352.9 43.4C355.1 41.4 358.2 39.8 360.8 38.3C363.4 36.8 366.0 35.6 368.7 34.6C371.4 33.6 374.1 32.7 377.0 32.0C379.9 31.3 383.3 30.6 386.0 30.5C388.7 30.4 391.1 30.8 393.0 31.5C394.9 32.2 396.9 33.6 397.5 35.0C398.1 36.4 397.7 38.4 396.8 40.0C395.9 41.6 393.9 43.1 392.0 44.5C390.1 45.9 387.8 47.2 385.5 48.5C383.2 49.8 380.4 51.2 378.0 52.5C375.6 53.8 373.4 54.9 371.0 56.5C368.6 58.1 366.2 60.3 363.9 61.9C361.6 63.5 359.8 64.7 357.4 66.0C354.9 67.3 351.6 68.4 349.2 69.5C346.8 70.6 344.6 71.4 342.9 72.5C341.2 73.6 340.1 74.6 338.8 76.0C337.6 77.4 336.5 79.0 335.4 81.0C334.3 83.0 333.1 85.9 332.0 88.0C330.9 90.1 330.4 92.9 328.7 93.8C327.0 94.7 323.4 94.6 322.0 93.5Z" fill="#ff8a00" stroke="#000" stroke-width="0.40" stroke-opacity="0.60"/>
<path d="M326.0 91.5C325.6 91.4 324.2 88.9 324.6 87.0C325.0 85.1 326.5 82.9 328.4 80.2C330.3 77.5 333.8 73.5 336.0 71.0C338.2 68.5 340.3 66.9 341.8 65.0C343.3 63.1 343.6 61.7 345.0 59.5C346.4 57.3 348.5 54.1 350.2 51.8C351.9 49.5 353.1 47.5 355.1 45.6C357.1 43.8 359.9 42.1 362.3 40.7C364.7 39.3 367.2 38.0 369.7 37.0C372.2 36.0 374.9 35.0 377.2 34.5C379.5 34.0 382.3 33.5 383.4 33.9C384.5 34.3 384.7 35.7 383.8 37.0C382.9 38.3 380.5 40.2 378.1 41.9C375.8 43.5 371.9 45.3 369.7 46.9C367.5 48.5 366.6 49.7 364.7 51.2C362.8 52.8 360.5 54.5 358.5 56.2C356.5 57.9 354.8 60.0 352.7 61.5C350.6 63.0 348.1 64.2 345.8 65.5C343.5 66.8 340.7 67.9 339.1 69.0C337.5 70.1 337.5 70.8 336.3 72.0C335.1 73.2 333.3 75.0 332.2 76.5C331.1 78.0 330.4 79.2 329.6 81.0C328.8 82.8 327.9 85.8 327.3 87.5C326.7 89.2 326.4 91.6 326.0 91.5Z" fill="#ff3000" stroke="#000" stroke-width="0.40" stroke-opacity="0.60"/>
<path d="M314.5 98.0C315.5 97.1 319.1 99.2 322.0 99.5C324.9 99.8 329.3 99.5 332.0 99.8C334.7 100.1 337.1 99.5 338.0 101.5C338.9 103.5 337.8 108.1 337.3 112.0C336.8 115.9 335.7 121.6 335.0 125.0C334.3 128.4 334.0 132.0 333.0 132.3C332.0 132.6 330.8 130.1 329.0 127.0C327.2 124.0 324.7 117.7 322.5 114.0C320.3 110.3 317.3 107.7 316.0 105.0C314.7 102.3 313.5 98.9 314.5 98.0Z" fill="#ffc800" stroke="#000" stroke-width="0.40" stroke-opacity="0.60"/>
<path d="M316.5 96.8C316.8 96.3 318.8 96.2 320.0 96.3C321.2 96.4 323.5 97.0 324.0 97.5C324.5 98.0 323.9 99.3 323.0 99.6C322.1 99.9 319.6 100.0 318.5 99.5C317.4 99.0 316.2 97.3 316.5 96.8Z" fill="#ff8a00" stroke="#000" stroke-width="0.40" stroke-opacity="0.60"/>
<path d="M317.3 97.0C317.6 96.7 319.1 96.7 320.0 96.8C320.9 96.9 322.3 97.4 322.5 97.8C322.7 98.2 321.7 98.8 321.0 99.0C320.3 99.2 318.9 99.1 318.3 98.8C317.7 98.5 317.0 97.3 317.3 97.0Z" fill="#ff3000" stroke="#000" stroke-width="0.40" stroke-opacity="0.60"/>
<path d="M462.0 49.0C463.5 47.5 467.0 45.9 470.0 45.0C473.0 44.1 476.5 44.0 480.0 43.8C483.5 43.6 489.0 42.8 491.0 43.8C493.0 44.8 492.7 47.6 492.0 50.0C491.3 52.4 488.7 56.2 487.0 58.0C485.3 59.8 484.2 61.0 482.0 61.0C479.8 61.0 476.7 58.7 474.0 58.0C471.3 57.3 468.2 57.7 466.0 57.0C463.8 56.3 461.7 55.3 461.0 54.0C460.3 52.7 460.5 50.5 462.0 49.0Z" fill="#ffc800" stroke="#000" stroke-width="0.40" stroke-opacity="0.60"/>
<path d="M484.0 46.0C484.8 44.8 488.6 44.0 490.0 44.0C491.4 44.0 492.3 44.7 492.5 46.0C492.7 47.3 491.8 50.7 491.0 52.0C490.2 53.3 488.5 54.2 487.5 54.0C486.5 53.8 485.6 52.3 485.0 51.0C484.4 49.7 483.2 47.2 484.0 46.0Z" fill="#ff8a00" stroke="#000" stroke-width="0.40" stroke-opacity="0.60"/>
<path d="M486.0 46.5C486.4 45.7 488.6 45.3 489.5 45.5C490.4 45.7 491.5 46.5 491.5 47.5C491.5 48.5 490.2 51.0 489.5 51.5C488.8 52.0 487.6 51.3 487.0 50.5C486.4 49.7 485.6 47.3 486.0 46.5Z" fill="#ff3000" stroke="#000" stroke-width="0.40" stroke-opacity="0.60"/>
<path d="M490.3 47.0C491.5 45.3 493.3 47.8 495.3 50.0C497.3 52.2 500.0 56.3 502.3 60.0C504.6 63.7 507.0 67.0 509.3 72.0C511.6 77.0 514.5 83.7 516.3 90.0C518.1 96.3 519.5 103.3 520.3 110.0C521.1 116.7 521.8 123.7 521.3 130.0C520.8 136.3 519.0 143.5 517.3 148.0C515.5 152.5 513.0 154.2 510.8 157.0C508.6 159.8 506.3 162.0 504.3 164.5C502.3 167.0 500.5 169.4 499.0 172.0C497.5 174.6 497.0 177.3 495.5 180.0C494.0 182.7 491.7 186.8 490.0 188.0C488.3 189.2 485.8 188.7 485.5 187.0C485.2 185.3 487.5 180.8 488.5 178.0C489.5 175.2 490.9 172.7 491.5 170.0C492.1 167.3 491.8 165.3 492.0 162.0C492.2 158.7 492.5 154.5 493.0 150.0C493.5 145.5 494.2 140.0 495.0 135.0C495.8 130.0 497.5 123.8 497.7 120.0C497.9 116.2 497.2 115.6 496.4 112.3C495.6 109.0 493.9 104.5 492.7 100.0C491.5 95.5 489.8 90.0 489.0 85.0C488.2 80.0 487.8 74.2 487.7 70.0C487.6 65.8 487.9 63.8 488.3 60.0C488.7 56.2 489.1 48.7 490.3 47.0Z" fill="#ffc800" stroke="#000" stroke-width="0.40" stroke-opacity="0.60"/>
<path d="M491.0 51.5C491.9 50.7 493.8 49.8 495.0 50.0C496.2 50.2 497.6 51.3 498.5 53.0C499.4 54.7 499.9 57.6 500.5 60.0C501.1 62.4 501.2 64.9 502.0 67.4C502.8 69.9 503.6 72.0 505.0 74.9C506.4 77.8 508.9 81.6 510.5 85.0C512.1 88.4 513.6 91.6 514.8 95.4C516.0 99.2 516.9 103.9 517.5 108.0C518.1 112.1 518.5 115.8 518.6 120.0C518.7 124.2 518.7 129.7 518.0 133.0C517.3 136.3 515.7 138.0 514.3 140.0C512.9 142.0 511.1 144.0 509.8 145.0C508.5 146.0 507.5 146.7 506.4 146.0C505.3 145.3 504.1 143.7 503.3 141.0C502.5 138.3 501.8 133.5 501.5 130.0C501.2 126.5 501.6 123.3 501.3 120.0C501.0 116.7 500.4 113.8 499.5 110.0C498.6 106.2 497.0 100.8 496.0 97.0C495.0 93.2 494.1 91.1 493.5 87.4C492.9 83.7 492.8 78.3 492.6 75.0C492.4 71.7 492.6 69.9 492.2 67.4C491.8 64.9 490.6 62.1 490.2 60.0C489.8 57.9 489.4 56.4 489.5 55.0C489.6 53.6 490.1 52.3 491.0 51.5Z" fill="#ff8a00" stroke="#000" stroke-width="0.40" stroke-opacity="0.60"/>
<path d="M493.0 53.5C493.6 53.2 494.8 53.4 495.5 54.5C496.2 55.6 496.4 57.9 497.2 60.0C497.9 62.1 499.1 64.9 500.0 67.4C500.9 69.9 501.5 72.0 502.8 74.9C504.1 77.8 506.3 81.6 508.0 85.0C509.7 88.4 511.7 91.6 513.0 95.4C514.3 99.2 515.2 104.2 515.8 108.0C516.4 111.8 516.7 115.5 516.8 118.0C516.9 120.5 516.7 121.5 516.4 123.0C516.1 124.5 515.6 125.7 515.0 127.0C514.4 128.3 513.8 131.1 513.0 131.0C512.2 130.9 511.0 128.0 510.0 126.7C509.0 125.4 507.7 124.5 507.0 123.0C506.3 121.5 506.2 120.5 505.7 118.0C505.2 115.5 504.7 111.8 504.2 108.0C503.7 104.2 503.1 99.2 502.5 95.4C501.9 91.6 501.1 88.4 500.3 85.0C499.5 81.6 498.8 77.8 497.9 74.9C497.0 72.0 495.9 69.9 495.1 67.4C494.3 64.9 493.4 61.9 492.9 60.0C492.3 58.1 491.8 57.1 491.8 56.0C491.8 54.9 492.4 53.8 493.0 53.5Z" fill="#ff3000" stroke="#000" stroke-width="0.40" stroke-opacity="0.60"/>
<path d="M336.5 144.2C337.2 144.2 338.3 147.7 340.5 150.0C342.7 152.3 347.1 155.6 349.5 157.9C351.9 160.2 353.4 162.0 355.0 164.0C356.6 166.0 357.6 167.8 359.4 170.0C361.2 172.2 363.4 175.1 366.0 177.5C368.6 179.9 370.3 182.1 374.7 184.5C379.1 186.9 386.4 189.8 392.2 192.0C398.0 194.2 404.2 196.2 409.6 198.0C415.0 199.8 419.9 201.5 424.5 203.0C429.1 204.5 433.9 205.7 437.0 207.0C440.1 208.3 441.2 208.8 443.0 211.0C444.8 213.2 447.0 217.8 448.0 220.0C449.0 222.2 450.8 223.2 449.0 224.0C447.2 224.8 441.5 224.7 437.0 224.5C432.5 224.3 427.4 223.7 422.0 223.0C416.6 222.3 409.6 221.4 404.6 220.5C399.6 219.6 396.1 218.8 392.0 217.8C387.9 216.8 383.8 215.9 379.8 214.3C375.8 212.8 371.5 210.7 368.0 208.5C364.5 206.3 361.8 203.8 359.0 201.0C356.2 198.2 353.1 195.8 351.0 192.0C348.9 188.2 347.8 181.7 346.5 178.0C345.2 174.3 344.2 173.3 343.0 170.0C341.8 166.7 340.7 161.3 339.5 158.0C338.3 154.7 336.5 152.3 336.0 150.0C335.5 147.7 335.8 144.2 336.5 144.2Z" fill="#ffc800" stroke="#000" stroke-width="0.40" stroke-opacity="0.60"/>
<path d="M354.5 186.0C355.2 184.6 357.1 184.1 360.5 184.7C363.9 185.3 369.8 187.5 374.7 189.5C379.6 191.5 384.7 194.2 389.7 196.5C394.7 198.8 399.6 201.2 404.6 203.0C409.6 204.8 414.1 205.4 419.5 207.0C424.9 208.6 432.9 211.0 437.0 212.5C441.1 214.0 442.5 214.5 444.0 216.0C445.5 217.5 447.2 220.5 446.0 221.5C444.8 222.5 441.0 222.2 437.0 222.0C433.0 221.8 427.4 221.2 422.0 220.5C416.6 219.8 409.6 218.8 404.6 218.0C399.6 217.2 396.1 216.4 392.0 215.5C387.9 214.6 383.5 213.8 379.8 212.4C376.1 211.0 373.0 209.1 370.0 207.0C367.0 204.9 364.3 202.3 362.0 200.0C359.7 197.7 357.2 195.3 356.0 193.0C354.8 190.7 353.8 187.4 354.5 186.0Z" fill="#ff8a00" stroke="#000" stroke-width="0.40" stroke-opacity="0.60"/>
<path d="M359.5 194.8C359.5 193.5 362.5 192.5 364.6 192.2C366.7 191.9 369.3 192.1 372.0 192.8C374.7 193.5 378.1 195.1 381.0 196.5C383.9 197.9 385.4 198.9 389.7 201.0C394.0 203.1 401.2 206.8 407.0 209.0C412.8 211.2 419.5 213.4 424.5 214.5C429.5 215.6 433.8 215.4 437.0 215.8C440.2 216.2 442.5 216.0 443.5 216.8C444.5 217.6 444.9 219.7 443.0 220.5C441.1 221.3 435.5 222.0 432.0 221.5C428.5 221.0 426.6 218.7 422.0 217.6C417.4 216.5 409.6 215.8 404.6 215.0C399.6 214.2 396.1 213.3 392.0 212.5C387.9 211.7 383.3 211.2 379.8 210.0C376.3 208.8 373.3 206.9 370.8 205.3C368.3 203.7 366.5 202.1 364.6 200.3C362.7 198.6 359.5 196.2 359.5 194.8Z" fill="#ff3000" stroke="#000" stroke-width="0.40" stroke-opacity="0.60"/>
<path d="M445.5 203.0C446.5 201.6 449.9 201.3 452.0 201.5C454.1 201.7 456.6 202.4 458.0 204.0C459.4 205.6 460.3 208.5 460.3 211.0C460.3 213.5 459.2 217.2 458.0 219.0C456.8 220.8 454.5 222.3 453.0 222.0C451.5 221.7 450.2 219.0 449.0 217.0C447.8 215.0 446.6 212.3 446.0 210.0C445.4 207.7 444.5 204.4 445.5 203.0Z" fill="#ffc800" stroke="#000" stroke-width="0.40" stroke-opacity="0.60"/>
<path d="M446.5 213.0C446.9 212.1 448.9 212.0 450.0 212.5C451.1 213.0 452.7 214.6 453.0 216.0C453.3 217.4 452.6 220.2 452.0 221.0C451.4 221.8 450.2 221.5 449.5 221.0C448.8 220.5 448.0 219.3 447.5 218.0C447.0 216.7 446.1 213.9 446.5 213.0Z" fill="#ff8a00" stroke="#000" stroke-width="0.40" stroke-opacity="0.60"/>
<path d="M446.5 214.8C446.8 214.1 448.4 214.1 449.0 214.5C449.6 214.9 450.0 216.5 450.0 217.5C450.0 218.5 449.4 220.1 449.0 220.3C448.6 220.6 447.7 219.9 447.3 219.0C446.9 218.1 446.2 215.6 446.5 214.8Z" fill="#ff3000" stroke="#000" stroke-width="0.40" stroke-opacity="0.60"/>
<path d="M360.0 47.5C360.3 46.6 362.5 44.5 364.0 43.5C365.5 42.5 367.8 41.5 369.0 41.5C370.2 41.5 371.3 42.6 371.0 43.5C370.7 44.4 368.5 46.1 367.0 47.0C365.5 47.9 363.2 48.9 362.0 49.0C360.8 49.1 359.7 48.4 360.0 47.5Z" fill="#f41c00" stroke="#000" stroke-width="0.40" stroke-opacity="0.60"/>
<path d="M511.5 106.0C511.8 103.7 512.9 103.3 513.5 104.0C514.1 104.7 514.9 107.7 515.3 110.0C515.7 112.3 516.0 115.5 516.0 118.0C516.0 120.5 515.5 123.7 515.0 125.0C514.5 126.3 513.4 127.2 512.8 126.0C512.2 124.8 511.7 121.3 511.5 118.0C511.3 114.7 511.2 108.3 511.5 106.0Z" fill="#f41c00" stroke="#000" stroke-width="0.40" stroke-opacity="0.60"/>
<path d="M369.5 199.0C370.0 198.2 372.9 198.8 375.0 199.5C377.1 200.2 379.8 202.1 382.0 203.5C384.2 204.9 387.3 206.9 388.0 208.0C388.7 209.1 387.5 209.9 386.0 210.0C384.5 210.1 381.3 209.5 379.0 208.5C376.7 207.5 373.6 205.6 372.0 204.0C370.4 202.4 369.0 199.8 369.5 199.0Z" fill="#f41c00" stroke="#000" stroke-width="0.40" stroke-opacity="0.60"/>
<path d="M534.8 120.3L533.1 100.4L527.9 81.0L519.4 62.9L507.9 46.5L493.8 32.4L477.4 20.9L459.3 12.4L439.9 7.2L420.0 5.5L400.1 7.2L380.7 12.4L362.6 20.9L346.2 32.4L332.1 46.5L320.6 62.9L312.1 81.0L306.9 100.4L305.2 120.3L306.9 140.2L312.1 159.6L320.6 177.7L332.1 194.1L346.2 208.2L362.6 219.7L380.7 228.2L400.1 233.4L420.0 235.1L439.9 233.4L459.3 228.2L477.4 219.7L493.8 208.2L507.9 194.1L519.4 177.7L527.9 159.6L533.1 140.2ZM517.7 122.9L517.3 125.4L516.8 127.9L516.2 130.4L515.6 132.9L514.9 135.3L514.3 137.8L513.7 140.2L513.0 142.6L512.3 145.0L511.6 147.4L510.9 149.8L510.1 152.2L509.3 154.6L508.4 156.9L507.5 159.3L506.6 161.6L505.6 163.9L504.6 166.3L503.6 168.6L502.5 170.9L501.4 173.2L500.3 175.5L499.0 177.7L497.7 179.9L496.3 182.0L494.8 184.2L493.2 186.2L491.6 188.3L490.0 190.3L488.2 192.2L486.5 194.1L484.7 196.0L482.8 197.8L480.9 199.7L479.0 201.4L477.0 203.2L475.0 204.9L472.9 206.6L470.8 208.3L468.7 209.9L466.5 211.6L464.3 213.2L462.1 214.8L459.8 216.3L457.4 217.7L455.0 219.0L452.5 220.2L449.9 221.3L447.3 222.3L444.7 223.1L442.0 223.7L439.3 224.3L436.5 224.7L433.8 225.0L431.0 225.3L428.3 225.5L425.5 225.5L422.8 225.4L420.0 225.3L417.3 225.0L414.5 224.6L411.8 224.2L409.1 223.6L406.5 223.0L403.8 222.4L401.2 221.6L398.6 220.9L396.0 220.1L393.5 219.2L391.0 218.3L388.5 217.3L386.0 216.2L383.6 215.1L381.3 213.8L378.9 212.5L376.6 211.2L374.4 209.8L372.2 208.3L370.1 206.7L368.0 205.1L366.0 203.5L364.0 201.8L362.0 200.1L360.1 198.4L358.2 196.6L356.4 194.7L354.7 192.8L353.0 190.9L351.3 189.0L349.8 187.0L348.2 184.9L346.7 182.9L345.3 180.8L343.8 178.8L342.4 176.7L341.0 174.6L339.6 172.5L338.2 170.5L336.8 168.4L335.4 166.2L334.0 164.1L332.8 161.9L331.5 159.7L330.4 157.4L329.3 155.1L328.3 152.8L327.4 150.4L326.5 148.0L325.7 145.6L325.0 143.1L324.4 140.6L323.8 138.1L323.3 135.6L322.9 133.1L322.5 130.5L322.1 128.0L321.7 125.5L321.2 122.9L320.7 120.3L320.2 117.7L319.6 115.0L319.0 112.4L318.5 109.6L317.9 106.9L317.6 104.1L317.3 101.3L317.3 98.5L317.4 95.7L317.8 92.9L318.4 90.2L319.2 87.5L320.1 84.9L321.2 82.4L322.5 79.9L323.8 77.5L325.3 75.1L326.9 72.8L328.4 70.6L330.1 68.4L331.8 66.3L333.6 64.2L335.4 62.1L337.2 60.2L339.1 58.2L341.0 56.3L343.0 54.5L344.9 52.7L346.9 50.9L348.8 49.1L350.8 47.4L352.8 45.7L354.8 44.0L356.9 42.4L359.0 40.8L361.1 39.2L363.3 37.8L365.5 36.4L367.7 35.0L370.1 33.8L372.4 32.6L374.8 31.6L377.2 30.6L379.6 29.6L382.1 28.8L384.6 28.1L387.1 27.4L389.6 26.8L392.1 26.2L394.7 25.7L397.2 25.3L399.7 24.9L402.2 24.5L404.8 24.2L407.3 24.0L409.9 23.8L412.4 23.7L414.9 23.7L417.5 23.7L420.0 23.8L422.5 23.9L425.0 24.1L427.6 24.4L430.0 24.7L432.5 25.1L435.0 25.5L437.5 26.0L439.9 26.6L442.3 27.3L444.8 27.9L447.2 28.6L449.6 29.3L452.0 30.0L454.4 30.8L456.8 31.5L459.2 32.3L461.6 33.1L464.0 33.9L466.4 34.8L468.8 35.7L471.3 36.7L473.7 37.6L476.1 38.7L478.6 39.7L481.0 40.8L483.5 41.9L485.9 43.1L488.4 44.4L490.8 45.7L493.1 47.2L495.4 48.7L497.6 50.4L499.7 52.2L501.7 54.1L503.6 56.1L505.4 58.3L507.1 60.5L508.6 62.7L510.0 65.1L511.3 67.6L512.5 70.1L513.5 72.7L514.4 75.3L515.2 77.9L515.8 80.6L516.4 83.3L516.9 86.0L517.3 88.7L517.6 91.4L517.9 94.1L518.1 96.7L518.3 99.4L518.5 102.0L518.6 104.7L518.7 107.3L518.7 109.9L518.7 112.5L518.6 115.1L518.4 117.7L518.1 120.3Z" fill="#b8ff00" fill-rule="evenodd" stroke="#000" stroke-width="0.3" stroke-opacity="0.45"/>
<path d="M534.8 120.3L533.1 100.4L527.9 81.0L519.4 62.9L507.9 46.5L493.8 32.4L477.4 20.9L459.3 12.4L439.9 7.2L420.0 5.5L400.1 7.2L380.7 12.4L362.6 20.9L346.2 32.4L332.1 46.5L320.6 62.9L312.1 81.0L306.9 100.4L305.2 120.3L306.9 140.2L312.1 159.6L320.6 177.7L332.1 194.1L346.2 208.2L362.6 219.7L380.7 228.2L400.1 233.4L420.0 235.1L439.9 233.4L459.3 228.2L477.4 219.7L493.8 208.2L507.9 194.1L519.4 177.7L527.9 159.6L533.1 140.2ZM519.0 122.9L518.6 125.5L518.1 128.0L517.5 130.6L517.0 133.1L516.4 135.6L515.8 138.0L515.1 140.5L514.5 143.0L513.9 145.5L513.2 147.9L512.5 150.3L511.7 152.8L510.9 155.2L510.0 157.6L509.2 160.0L508.3 162.4L507.3 164.8L506.4 167.2L505.3 169.6L504.3 171.9L503.1 174.3L501.9 176.6L500.7 178.9L499.3 181.1L497.8 183.3L496.3 185.5L494.7 187.6L493.1 189.6L491.4 191.7L489.6 193.7L487.8 195.6L485.9 197.5L484.0 199.4L482.1 201.2L480.1 203.0L478.0 204.7L476.0 206.5L473.8 208.1L471.7 209.8L469.5 211.4L467.3 213.1L465.0 214.7L462.7 216.2L460.3 217.7L457.9 219.0L455.4 220.3L452.9 221.5L450.3 222.5L447.6 223.4L444.9 224.2L442.2 224.8L439.5 225.3L436.7 225.7L433.9 226.0L431.1 226.3L428.4 226.4L425.6 226.5L422.8 226.4L420.0 226.2L417.2 226.0L414.5 225.6L411.7 225.2L409.0 224.6L406.3 224.0L403.7 223.4L401.0 222.6L398.4 221.9L395.8 221.0L393.2 220.2L390.7 219.2L388.2 218.2L385.7 217.1L383.3 216.0L380.9 214.7L378.5 213.5L376.2 212.1L373.9 210.7L371.7 209.2L369.5 207.7L367.4 206.2L365.3 204.5L363.2 202.9L361.2 201.2L359.3 199.4L357.3 197.7L355.5 195.9L353.6 194.0L351.9 192.1L350.1 190.2L348.4 188.2L346.8 186.2L345.2 184.2L343.7 182.1L342.1 180.1L340.6 178.0L339.1 175.9L337.6 173.8L336.1 171.7L334.7 169.6L333.2 167.4L331.8 165.2L330.5 163.0L329.2 160.7L328.0 158.4L326.8 156.1L325.8 153.7L324.8 151.2L323.9 148.8L323.1 146.3L322.4 143.7L321.7 141.2L321.1 138.6L320.6 136.0L320.2 133.4L319.8 130.8L319.4 128.2L319.0 125.6L318.5 123.0L318.1 120.3L317.6 117.6L317.1 114.9L316.7 112.2L316.3 109.4L315.9 106.6L315.7 103.8L315.6 101.0L315.7 98.1L316.0 95.3L316.4 92.6L317.1 89.8L317.9 87.1L318.8 84.5L319.9 81.9L321.1 79.3L322.4 76.8L323.8 74.4L325.3 72.1L326.9 69.8L328.6 67.5L330.3 65.4L332.2 63.3L334.0 61.2L336.0 59.2L337.9 57.3L339.9 55.5L341.9 53.6L344.0 51.8L346.0 50.1L348.0 48.3L350.1 46.6L352.1 44.9L354.2 43.2L356.3 41.6L358.4 40.0L360.5 38.5L362.7 37.0L365.0 35.6L367.3 34.2L369.6 33.0L371.9 31.8L374.3 30.7L376.7 29.6L379.2 28.6L381.7 27.8L384.2 26.9L386.7 26.2L389.2 25.5L391.7 24.9L394.3 24.3L396.8 23.7L399.4 23.2L401.9 22.8L404.5 22.4L407.1 22.1L409.7 21.9L412.2 21.7L414.8 21.5L417.4 21.5L420.0 21.5L422.6 21.6L425.2 21.7L427.7 22.0L430.3 22.3L432.9 22.6L435.4 23.1L437.9 23.6L440.4 24.2L442.9 24.8L445.4 25.5L447.9 26.2L450.4 26.9L452.8 27.6L455.3 28.4L457.8 29.1L460.2 29.9L462.7 30.8L465.2 31.6L467.7 32.5L470.1 33.4L472.6 34.4L475.1 35.5L477.6 36.5L480.1 37.6L482.5 38.8L485.0 40.0L487.4 41.3L489.8 42.7L492.2 44.2L494.4 45.9L496.6 47.6L498.7 49.4L500.8 51.3L502.7 53.3L504.5 55.4L506.3 57.6L507.9 59.9L509.5 62.2L510.9 64.6L512.2 67.1L513.4 69.6L514.4 72.2L515.3 74.8L516.1 77.5L516.8 80.2L517.4 82.9L517.9 85.6L518.3 88.4L518.6 91.1L518.9 93.8L519.2 96.5L519.4 99.2L519.6 101.8L519.7 104.5L519.8 107.2L519.8 109.8L519.8 112.4L519.7 115.1L519.6 117.7L519.3 120.3Z" fill="#62fa0c" fill-rule="evenodd" stroke="#000" stroke-width="0.3" stroke-opacity="0.45"/>
<path d="M534.8 120.3L533.1 100.4L527.9 81.0L519.4 62.9L507.9 46.5L493.8 32.4L477.4 20.9L459.3 12.4L439.9 7.2L420.0 5.5L400.1 7.2L380.7 12.4L362.6 20.9L346.2 32.4L332.1 46.5L320.6 62.9L312.1 81.0L306.9 100.4L305.2 120.3L306.9 140.2L312.1 159.6L320.6 177.7L332.1 194.1L346.2 208.2L362.6 219.7L380.7 228.2L400.1 233.4L420.0 235.1L439.9 233.4L459.3 228.2L477.4 219.7L493.8 208.2L507.9 194.1L519.4 177.7L527.9 159.6L533.1 140.2ZM520.3 122.9L519.9 125.5L519.4 128.1L518.9 130.7L518.4 133.3L517.8 135.8L517.2 138.3L516.6 140.8L516.0 143.4L515.4 145.9L514.7 148.4L514.0 150.9L513.3 153.3L512.5 155.8L511.7 158.3L510.8 160.7L510.0 163.2L509.0 165.7L508.1 168.1L507.1 170.6L506.0 173.0L504.9 175.4L503.6 177.8L502.3 180.1L500.9 182.4L499.4 184.6L497.8 186.8L496.2 188.9L494.5 191.0L492.8 193.1L491.0 195.1L489.1 197.1L487.2 199.0L485.2 200.9L483.2 202.7L481.2 204.5L479.1 206.3L477.0 208.0L474.8 209.7L472.6 211.3L470.3 212.9L468.0 214.5L465.7 216.1L463.3 217.6L460.9 219.1L458.4 220.4L455.9 221.6L453.3 222.7L450.6 223.7L447.9 224.5L445.2 225.2L442.4 225.8L439.6 226.3L436.8 226.7L434.0 227.0L431.2 227.2L428.4 227.4L425.6 227.4L422.8 227.4L420.0 227.2L417.2 226.9L414.4 226.6L411.7 226.2L408.9 225.6L406.2 225.0L403.5 224.3L400.9 223.6L398.2 222.8L395.6 222.0L393.0 221.1L390.4 220.1L387.9 219.1L385.4 218.0L382.9 216.9L380.5 215.7L378.1 214.4L375.8 213.0L373.5 211.7L371.2 210.2L369.0 208.7L366.8 207.2L364.6 205.6L362.5 203.9L360.5 202.3L358.4 200.5L356.4 198.8L354.5 197.0L352.6 195.2L350.7 193.3L348.9 191.4L347.1 189.4L345.4 187.5L343.7 185.4L342.1 183.4L340.4 181.4L338.8 179.3L337.2 177.2L335.6 175.1L334.1 173.0L332.5 170.8L331.0 168.6L329.6 166.4L328.2 164.1L326.8 161.8L325.6 159.4L324.4 157.0L323.3 154.5L322.3 152.1L321.3 149.5L320.5 147.0L319.7 144.4L319.1 141.8L318.5 139.1L317.9 136.5L317.4 133.8L317.0 131.1L316.6 128.4L316.2 125.7L315.8 123.0L315.4 120.3L315.0 117.6L314.7 114.8L314.3 112.0L314.1 109.2L313.9 106.3L313.8 103.5L313.9 100.6L314.1 97.8L314.5 95.0L315.1 92.2L315.8 89.4L316.6 86.7L317.5 84.0L318.6 81.4L319.7 78.8L320.9 76.2L322.3 73.7L323.8 71.3L325.4 68.9L327.1 66.7L328.9 64.5L330.8 62.3L332.7 60.3L334.7 58.3L336.8 56.4L338.8 54.6L340.9 52.8L343.0 51.0L345.1 49.2L347.2 47.5L349.3 45.8L351.4 44.1L353.5 42.5L355.7 40.8L357.8 39.2L360.0 37.7L362.2 36.2L364.5 34.8L366.8 33.4L369.1 32.1L371.5 30.9L373.9 29.8L376.3 28.7L378.7 27.7L381.2 26.7L383.7 25.8L386.3 25.0L388.8 24.2L391.3 23.5L393.9 22.8L396.4 22.2L399.0 21.6L401.6 21.1L404.2 20.7L406.8 20.2L409.4 19.9L412.1 19.6L414.7 19.4L417.4 19.3L420.0 19.2L422.6 19.2L425.3 19.3L427.9 19.5L430.6 19.8L433.2 20.2L435.8 20.6L438.4 21.1L441.0 21.7L443.5 22.4L446.1 23.0L448.6 23.7L451.1 24.5L453.7 25.2L456.2 26.0L458.8 26.7L461.3 27.6L463.8 28.4L466.4 29.3L468.9 30.2L471.5 31.2L474.0 32.2L476.5 33.3L479.0 34.4L481.5 35.6L484.0 36.8L486.5 38.1L488.9 39.6L491.3 41.1L493.6 42.8L495.7 44.6L497.8 46.4L499.9 48.4L501.8 50.4L503.7 52.5L505.4 54.7L507.2 57.0L508.8 59.3L510.3 61.6L511.8 64.1L513.1 66.5L514.3 69.1L515.4 71.7L516.3 74.4L517.1 77.1L517.8 79.8L518.4 82.5L518.9 85.3L519.3 88.0L519.7 90.8L520.0 93.5L520.2 96.2L520.5 98.9L520.7 101.6L520.8 104.3L520.9 107.0L521.0 109.7L521.0 112.4L520.9 115.0L520.8 117.7L520.6 120.3Z" fill="#10ee2c" fill-rule="evenodd" stroke="#000" stroke-width="0.3" stroke-opacity="0.45"/>
<path d="M534.8 120.3L533.1 100.4L527.9 81.0L519.4 62.9L507.9 46.5L493.8 32.4L477.4 20.9L459.3 12.4L439.9 7.2L420.0 5.5L400.1 7.2L380.7 12.4L362.6 20.9L346.2 32.4L332.1 46.5L320.6 62.9L312.1 81.0L306.9 100.4L305.2 120.3L306.9 140.2L312.1 159.6L320.6 177.7L332.1 194.1L346.2 208.2L362.6 219.7L380.7 228.2L400.1 233.4L420.0 235.1L439.9 233.4L459.3 228.2L477.4 219.7L493.8 208.2L507.9 194.1L519.4 177.7L527.9 159.6L533.1 140.2ZM521.5 123.0L521.2 125.6L520.8 128.2L520.3 130.8L519.8 133.4L519.3 136.0L518.7 138.6L518.1 141.2L517.6 143.7L516.9 146.3L516.3 148.8L515.6 151.4L514.9 153.9L514.1 156.4L513.3 159.0L512.5 161.5L511.6 164.0L510.8 166.5L509.8 169.1L508.8 171.6L507.7 174.1L506.6 176.5L505.3 178.9L504.0 181.3L502.5 183.6L501.0 185.9L499.4 188.1L497.7 190.3L496.0 192.4L494.2 194.5L492.3 196.5L490.4 198.5L488.5 200.5L486.5 202.4L484.4 204.2L482.3 206.0L480.1 207.8L478.0 209.5L475.7 211.2L473.4 212.8L471.1 214.5L468.8 216.0L466.4 217.6L464.0 219.1L461.5 220.4L458.9 221.7L456.3 222.9L453.7 223.9L451.0 224.8L448.2 225.6L445.5 226.3L442.7 226.9L439.8 227.3L437.0 227.7L434.2 228.0L431.3 228.2L428.5 228.3L425.7 228.4L422.8 228.3L420.0 228.2L417.2 227.9L414.4 227.6L411.6 227.2L408.8 226.6L406.1 226.0L403.4 225.3L400.7 224.6L398.0 223.8L395.4 222.9L392.7 222.0L390.2 221.0L387.6 220.0L385.1 218.9L382.6 217.8L380.1 216.6L377.7 215.3L375.3 214.0L373.0 212.6L370.7 211.2L368.4 209.7L366.2 208.2L364.0 206.6L361.8 205.0L359.7 203.3L357.6 201.6L355.5 199.9L353.5 198.1L351.6 196.3L349.6 194.5L347.7 192.6L345.8 190.7L344.0 188.7L342.2 186.7L340.5 184.7L338.7 182.7L337.0 180.6L335.3 178.5L333.7 176.4L332.0 174.2L330.4 172.0L328.8 169.8L327.3 167.5L325.9 165.2L324.5 162.8L323.2 160.4L321.9 157.9L320.8 155.4L319.7 152.9L318.8 150.3L317.9 147.7L317.1 145.0L316.4 142.3L315.8 139.6L315.2 136.9L314.7 134.2L314.3 131.4L313.9 128.6L313.5 125.9L313.2 123.1L312.8 120.3L312.5 117.5L312.2 114.7L312.0 111.8L311.9 108.9L311.8 106.1L311.9 103.2L312.2 100.3L312.5 97.5L313.1 94.6L313.7 91.8L314.4 89.0L315.3 86.3L316.2 83.5L317.2 80.8L318.3 78.2L319.5 75.6L320.8 73.0L322.3 70.5L323.9 68.1L325.6 65.8L327.4 63.6L329.3 61.4L331.4 59.4L333.5 57.4L335.6 55.5L337.8 53.7L339.9 51.9L342.1 50.1L344.2 48.4L346.4 46.7L348.5 45.0L350.7 43.3L352.9 41.7L355.0 40.1L357.2 38.5L359.4 36.9L361.7 35.4L364.0 34.0L366.3 32.6L368.6 31.3L371.0 30.0L373.4 28.9L375.8 27.7L378.3 26.7L380.8 25.7L383.3 24.7L385.8 23.8L388.4 22.9L390.9 22.1L393.5 21.4L396.1 20.7L398.7 20.0L401.3 19.4L403.9 18.9L406.6 18.4L409.2 17.9L411.9 17.6L414.6 17.3L417.3 17.1L420.0 16.9L422.7 16.9L425.4 17.0L428.1 17.1L430.8 17.4L433.5 17.8L436.2 18.2L438.8 18.7L441.5 19.3L444.1 19.9L446.7 20.6L449.3 21.3L451.9 22.0L454.5 22.8L457.1 23.6L459.7 24.4L462.3 25.2L465.0 26.0L467.6 26.9L470.2 27.9L472.8 28.9L475.4 30.0L477.9 31.1L480.5 32.3L483.0 33.5L485.6 34.9L488.1 36.3L490.5 37.8L492.7 39.5L494.9 41.3L497.0 43.3L499.0 45.3L501.0 47.4L502.8 49.6L504.6 51.8L506.4 54.0L508.0 56.3L509.7 58.7L511.2 61.1L512.6 63.5L514.0 66.0L515.2 68.6L516.3 71.2L517.3 73.9L518.1 76.6L518.8 79.4L519.4 82.1L519.9 84.9L520.4 87.7L520.7 90.5L521.0 93.2L521.3 96.0L521.6 98.7L521.8 101.4L521.9 104.2L522.0 106.9L522.1 109.6L522.1 112.3L522.1 115.0L522.0 117.6L521.8 120.3Z" fill="#00fa9c" fill-rule="evenodd" stroke="#000" stroke-width="0.3" stroke-opacity="0.45"/>
<path d="M534.8 120.3L533.1 100.4L527.9 81.0L519.4 62.9L507.9 46.5L493.8 32.4L477.4 20.9L459.3 12.4L439.9 7.2L420.0 5.5L400.1 7.2L380.7 12.4L362.6 20.9L346.2 32.4L332.1 46.5L320.6 62.9L312.1 81.0L306.9 100.4L305.2 120.3L306.9 140.2L312.1 159.6L320.6 177.7L332.1 194.1L346.2 208.2L362.6 219.7L380.7 228.2L400.1 233.4L420.0 235.1L439.9 233.4L459.3 228.2L477.4 219.7L493.8 208.2L507.9 194.1L519.4 177.7L527.9 159.6L533.1 140.2ZM522.8 123.0L522.5 125.7L522.1 128.3L521.7 131.0L521.2 133.6L520.7 136.3L520.2 138.9L519.6 141.5L519.1 144.1L518.5 146.7L517.8 149.3L517.2 151.9L516.5 154.5L515.7 157.0L515.0 159.6L514.2 162.2L513.3 164.8L512.5 167.4L511.5 170.0L510.5 172.6L509.4 175.1L508.3 177.6L507.0 180.1L505.6 182.5L504.1 184.9L502.6 187.2L500.9 189.4L499.2 191.6L497.4 193.8L495.6 195.9L493.7 198.0L491.7 200.0L489.7 202.0L487.7 203.9L485.6 205.8L483.4 207.6L481.2 209.4L479.0 211.1L476.6 212.7L474.3 214.4L471.9 216.0L469.5 217.5L467.1 219.0L464.6 220.5L462.0 221.8L459.4 223.0L456.8 224.1L454.1 225.1L451.3 226.0L448.5 226.8L445.7 227.4L442.9 227.9L440.0 228.3L437.2 228.7L434.3 228.9L431.4 229.2L428.6 229.3L425.7 229.3L422.9 229.3L420.0 229.1L417.2 228.9L414.3 228.6L411.5 228.2L408.7 227.6L405.9 227.0L403.2 226.3L400.5 225.6L397.8 224.8L395.1 223.9L392.5 222.9L389.9 222.0L387.3 220.9L384.8 219.8L382.2 218.7L379.8 217.5L377.3 216.2L374.9 214.9L372.5 213.6L370.1 212.1L367.8 210.7L365.5 209.2L363.3 207.6L361.1 206.0L358.9 204.4L356.8 202.7L354.6 201.0L352.6 199.3L350.5 197.5L348.5 195.7L346.5 193.8L344.5 191.9L342.6 190.0L340.7 188.0L338.9 186.0L337.0 184.0L335.2 181.9L333.4 179.8L331.7 177.7L330.0 175.5L328.3 173.2L326.7 171.0L325.1 168.7L323.6 166.3L322.1 163.9L320.8 161.4L319.5 158.9L318.3 156.3L317.2 153.7L316.2 151.1L315.3 148.4L314.5 145.6L313.7 142.9L313.1 140.1L312.5 137.3L312.0 134.5L311.6 131.7L311.2 128.9L310.8 126.0L310.5 123.2L310.2 120.3L309.9 117.4L309.8 114.5L309.6 111.6L308.2 108.5L308.3 105.6L308.6 102.6L309.0 99.7L309.5 96.8L310.1 93.9L310.9 91.1L311.7 88.2L312.5 85.4L313.5 82.6L314.5 79.8L315.6 77.0L316.7 74.3L318.0 71.6L319.4 69.0L321.0 66.6L324.1 64.9L325.9 62.7L327.9 60.5L330.0 58.5L332.2 56.5L334.4 54.6L336.7 52.8L338.9 51.0L341.1 49.3L343.4 47.6L345.6 45.9L347.8 44.2L350.0 42.5L352.2 40.9L354.4 39.3L356.6 37.7L358.9 36.2L361.1 34.7L363.4 33.2L365.8 31.8L368.1 30.5L370.5 29.2L372.9 28.0L375.4 26.8L377.9 25.7L380.4 24.6L382.9 23.6L385.4 22.6L388.0 21.7L390.5 20.8L393.1 19.9L395.7 19.2L398.3 18.4L401.0 17.7L403.7 17.1L406.3 16.5L409.0 16.0L411.8 15.5L414.5 15.1L417.2 14.9L420.0 14.7L422.8 14.6L425.5 14.6L428.3 14.7L431.1 15.0L433.8 15.3L436.6 15.7L439.3 16.2L442.0 16.8L444.7 17.5L447.4 18.1L450.1 18.8L452.7 19.6L455.4 20.3L458.1 21.1L460.7 22.0L463.4 22.8L466.1 23.7L468.8 24.6L471.4 25.6L474.1 26.6L476.7 27.7L479.4 28.9L482.0 30.2L484.5 31.5L487.1 32.9L489.6 34.4L492.0 36.1L495.2 36.8L497.4 38.8L498.3 42.0L500.2 44.2L502.1 46.4L503.9 48.7L505.6 51.0L507.3 53.3L508.9 55.7L510.5 58.1L512.0 60.5L513.5 63.0L514.9 65.5L516.1 68.1L517.2 70.8L518.2 73.5L519.1 76.2L519.8 79.0L520.4 81.7L521.0 84.5L521.4 87.4L521.8 90.2L522.1 92.9L522.4 95.7L522.6 98.5L522.9 101.2L523.0 104.0L523.1 106.7L523.2 109.5L523.3 112.2L523.2 114.9L523.2 117.6L523.0 120.3Z" fill="#00ffd2" fill-rule="evenodd" stroke="#000" stroke-width="0.3" stroke-opacity="0.45"/>
<path d="M534.8 120.3L533.1 100.4L527.9 81.0L519.4 62.9L507.9 46.5L493.8 32.4L477.4 20.9L459.3 12.4L439.9 7.2L420.0 5.5L400.1 7.2L380.7 12.4L362.6 20.9L346.2 32.4L332.1 46.5L320.6 62.9L312.1 81.0L306.9 100.4L305.2 120.3L306.9 140.2L312.1 159.6L320.6 177.7L332.1 194.1L346.2 208.2L362.6 219.7L380.7 228.2L400.1 233.4L420.0 235.1L439.9 233.4L459.3 228.2L477.4 219.7L493.8 208.2L507.9 194.1L519.4 177.7L527.9 159.6L533.1 140.2ZM524.0 123.0L523.8 125.7L523.4 128.4L523.0 131.1L522.6 133.8L522.2 136.5L521.7 139.1L521.1 141.8L520.6 144.4L520.0 147.1L519.4 149.7L518.7 152.4L518.1 155.0L517.3 157.7L516.6 160.3L515.8 163.0L515.0 165.6L514.2 168.3L513.3 170.9L512.3 173.6L511.2 176.2L510.0 178.7L508.7 181.2L507.3 183.7L505.8 186.1L504.2 188.5L502.5 190.7L500.7 193.0L498.9 195.2L497.0 197.3L495.1 199.4L493.1 201.4L491.0 203.4L488.9 205.4L486.7 207.3L484.5 209.1L482.3 210.9L479.9 212.6L477.6 214.3L475.2 215.9L472.8 217.5L470.3 219.0L468.4 221.8L465.8 223.3L463.2 224.6L460.5 225.8L457.7 226.8L454.9 227.8L452.1 228.6L449.2 229.3L446.3 229.9L443.4 230.4L440.5 230.8L437.3 229.7L434.4 229.9L431.5 230.1L428.7 230.2L425.8 230.3L422.9 230.2L420.0 230.1L417.1 229.9L414.3 229.6L411.4 229.1L408.6 228.6L405.8 228.0L403.0 227.3L400.3 226.6L397.6 225.7L394.9 224.8L392.2 223.9L389.6 222.9L387.0 221.8L384.4 220.7L381.9 219.6L379.4 218.4L376.9 217.1L374.4 215.8L372.0 214.5L369.6 213.1L367.3 211.7L364.9 210.2L362.6 208.6L360.4 207.1L358.1 205.5L355.9 203.8L353.7 202.1L351.6 200.4L349.5 198.6L347.4 196.8L345.3 195.0L343.2 193.1L341.2 191.2L339.2 189.3L337.3 187.3L335.3 185.3L333.4 183.2L331.6 181.1L329.7 178.9L327.9 176.7L326.2 174.5L324.5 172.2L322.8 169.8L321.3 167.4L319.8 164.9L318.4 162.4L317.0 159.8L315.8 157.2L314.7 154.5L312.2 152.2L311.2 149.4L310.4 146.6L309.6 143.8L308.9 140.9L308.3 138.0L307.8 135.1L307.4 132.1L307.0 129.2L306.6 126.2L306.3 123.3L306.1 120.3L305.9 117.3L305.8 114.3L305.8 111.3L306.0 108.3L306.2 105.3L306.7 102.4L307.2 99.4L307.9 96.5L308.7 93.6L309.5 90.7L310.3 87.8L311.2 85.0L312.2 82.1L313.2 79.3L314.2 76.5L315.2 73.7L316.5 70.9L317.9 68.3L319.5 65.7L321.3 63.3L323.2 61.0L325.3 58.8L328.7 57.5L331.0 55.6L333.3 53.8L335.6 52.0L337.9 50.2L340.2 48.4L342.5 46.7L344.8 45.1L347.0 43.4L349.3 41.8L351.5 40.1L353.8 38.5L356.0 36.9L358.3 35.4L360.6 33.9L362.9 32.4L365.3 31.0L367.7 29.6L370.1 28.3L372.5 27.1L374.9 25.8L377.4 24.7L379.9 23.5L382.4 22.5L385.0 21.4L387.5 20.4L390.1 19.4L392.7 18.5L395.4 17.6L398.0 16.8L400.7 16.0L403.4 15.3L406.1 14.6L408.8 14.0L411.6 13.5L414.4 13.0L417.2 12.7L420.0 12.4L422.8 12.3L425.7 12.2L428.5 12.3L431.3 12.5L434.1 12.9L436.9 13.3L439.7 13.8L442.5 14.4L445.3 15.0L448.0 15.7L450.8 16.4L453.5 17.2L456.3 17.9L459.0 18.7L461.7 19.6L464.5 20.4L467.2 21.3L469.9 22.3L472.7 23.3L476.2 23.0L478.9 24.2L481.6 25.5L484.3 26.8L486.9 28.2L489.5 29.7L492.0 31.3L494.4 33.1L496.7 35.2L498.7 37.3L500.7 39.6L502.5 42.0L504.3 44.4L506.0 46.8L507.7 49.3L509.4 51.7L511.0 54.2L512.6 56.7L512.9 60.0L514.4 62.5L515.8 65.0L517.0 67.6L518.2 70.3L519.2 73.0L520.0 75.8L520.8 78.6L521.4 81.4L522.0 84.2L522.4 87.0L522.8 89.9L523.1 92.7L523.4 95.5L523.7 98.3L523.9 101.0L524.1 103.8L524.3 106.6L524.4 109.3L524.4 112.1L524.4 114.8L524.4 117.6L524.2 120.3Z" fill="#00f0ff" fill-rule="evenodd" stroke="#000" stroke-width="0.3" stroke-opacity="0.45"/>
<path d="M534.8 120.3L533.1 100.4L527.9 81.0L519.4 62.9L507.9 46.5L493.8 32.4L477.4 20.9L459.3 12.4L439.9 7.2L420.0 5.5L400.1 7.2L380.7 12.4L362.6 20.9L346.2 32.4L332.1 46.5L320.6 62.9L312.1 81.0L306.9 100.4L305.2 120.3L306.9 140.2L312.1 159.6L320.6 177.7L332.1 194.1L346.2 208.2L362.6 219.7L380.7 228.2L400.1 233.4L420.0 235.1L439.9 233.4L459.3 228.2L477.4 219.7L493.8 208.2L507.9 194.1L519.4 177.7L527.9 159.6L533.1 140.2ZM525.3 123.1L525.1 125.8L524.8 128.5L524.4 131.3L524.0 134.0L523.6 136.7L523.1 139.4L522.6 142.1L522.1 144.8L521.5 147.5L520.9 150.2L520.3 152.9L519.7 155.6L519.0 158.3L518.2 161.0L517.5 163.7L516.7 166.4L515.9 169.1L515.0 171.9L514.0 174.6L512.9 177.2L511.7 179.8L510.3 182.4L508.9 184.9L507.4 187.4L505.7 189.7L504.0 192.0L502.2 194.3L500.3 196.5L499.5 199.8L497.5 201.9L495.4 204.0L493.3 206.1L491.1 208.1L488.8 210.0L486.5 211.9L484.2 213.7L481.8 215.4L479.3 217.1L476.8 218.7L474.3 220.3L471.7 221.8L469.1 223.3L466.5 224.7L463.8 225.9L461.0 227.1L458.2 228.1L455.3 229.0L452.4 229.8L449.5 230.4L446.6 231.0L443.6 231.5L440.7 231.8L437.7 232.1L434.8 232.4L431.8 232.6L428.8 232.7L425.9 232.7L422.9 232.7L420.0 231.1L417.1 230.9L414.2 230.6L411.4 230.1L408.5 229.6L405.7 229.0L402.9 228.3L400.1 227.6L397.4 226.7L394.7 225.8L392.0 224.8L389.3 223.8L386.7 222.7L384.1 221.6L381.5 220.5L379.0 219.3L376.5 218.0L374.0 216.8L371.5 215.4L369.1 214.1L366.7 212.7L364.3 211.2L362.0 209.7L359.6 208.1L357.4 206.5L355.1 204.9L352.9 203.2L350.6 201.5L348.4 199.8L346.2 198.0L344.1 196.2L341.9 194.4L339.8 192.5L337.7 190.6L335.7 188.6L333.6 186.6L331.6 184.5L329.7 182.4L327.7 180.2L325.9 178.0L324.1 175.7L321.0 174.1L319.3 171.6L317.6 169.1L316.0 166.6L314.6 164.0L313.2 161.3L311.9 158.6L310.7 155.8L309.6 153.0L308.6 150.1L307.7 147.3L307.0 144.3L306.3 141.4L305.6 138.4L305.1 135.4L304.6 132.4L304.2 129.4L303.9 126.4L303.6 123.3L303.4 120.3L303.3 117.2L303.3 114.2L303.5 111.1L303.7 108.1L304.2 105.1L304.9 102.1L305.8 99.1L306.8 96.2L307.7 93.3L308.6 90.5L309.5 87.6L310.5 84.7L311.4 81.8L312.4 79.0L313.4 76.1L314.4 73.3L315.4 70.4L316.6 67.6L318.0 64.9L319.8 62.4L321.7 60.1L323.9 57.9L326.1 55.8L328.5 53.8L332.1 52.9L334.5 51.1L336.9 49.3L339.2 47.6L341.6 45.9L343.9 44.2L346.3 42.6L348.6 41.0L350.9 39.4L353.2 37.8L355.4 36.2L357.7 34.6L360.1 33.1L362.4 31.6L364.8 30.2L367.2 28.8L369.6 27.5L372.0 26.2L374.5 24.9L377.0 23.7L379.5 22.5L382.0 21.3L384.6 20.2L387.1 19.1L389.7 18.1L392.3 17.1L395.0 16.1L397.7 15.2L400.4 14.3L403.1 13.5L405.8 12.8L408.6 12.1L411.4 11.4L414.3 10.9L417.1 10.5L420.0 10.1L422.9 9.9L425.8 9.8L428.7 9.9L431.7 8.6L434.7 9.0L437.6 9.4L440.5 9.9L443.3 10.5L446.2 11.1L449.1 11.8L451.9 12.5L454.8 13.3L457.6 14.1L460.5 14.9L463.3 15.8L466.1 16.7L469.0 17.6L471.8 18.6L474.6 19.6L477.5 20.8L480.3 22.0L483.0 23.3L485.7 24.7L488.4 26.2L491.0 27.8L493.6 29.5L495.9 31.4L498.1 33.5L500.1 35.9L502.0 38.3L503.7 40.9L505.4 43.4L507.1 45.9L508.7 48.5L510.3 51.0L511.9 53.5L513.5 56.1L515.0 58.6L516.5 61.1L518.0 63.7L519.3 66.4L520.4 69.1L521.5 71.9L521.0 75.3L521.8 78.1L522.4 81.0L523.0 83.8L523.4 86.7L523.8 89.5L524.2 92.4L524.5 95.2L524.8 98.0L525.0 100.8L525.2 103.6L525.4 106.4L525.5 109.2L525.6 112.0L525.6 114.8L525.6 117.5L525.5 120.3Z" fill="#00b4ff" fill-rule="evenodd" stroke="#000" stroke-width="0.3" stroke-opacity="0.45"/>
<path d="M534.8 120.3L533.1 100.4L527.9 81.0L519.4 62.9L507.9 46.5L493.8 32.4L477.4 20.9L459.3 12.4L439.9 7.2L420.0 5.5L400.1 7.2L380.7 12.4L362.6 20.9L346.2 32.4L332.1 46.5L320.6 62.9L312.1 81.0L306.9 100.4L305.2 120.3L306.9 140.2L312.1 159.6L320.6 177.7L332.1 194.1L346.2 208.2L362.6 219.7L380.7 228.2L400.1 233.4L420.0 235.1L439.9 233.4L459.3 228.2L477.4 219.7L493.8 208.2L507.9 194.1L519.4 177.7L527.9 159.6L533.1 140.2ZM526.6 123.1L526.4 125.9L526.1 128.6L525.8 131.4L525.4 134.2L525.0 136.9L524.6 139.7L524.1 142.4L523.6 145.2L523.1 147.9L522.5 150.7L521.9 153.4L521.3 156.2L520.6 158.9L519.9 161.7L519.1 164.4L518.4 167.2L517.6 170.0L516.7 172.8L515.7 175.6L515.9 179.1L514.6 181.8L513.3 184.4L511.8 187.0L510.2 189.5L508.5 192.0L506.7 194.3L504.8 196.7L502.9 199.0L500.9 201.2L498.8 203.4L496.7 205.5L494.5 207.6L492.3 209.6L490.0 211.5L487.6 213.4L485.2 215.2L482.8 217.0L480.3 218.6L477.7 220.2L475.1 221.8L472.5 223.3L469.8 224.7L467.1 226.1L464.3 227.3L461.5 228.4L458.6 229.4L455.7 230.2L452.8 230.9L449.8 231.6L446.8 232.1L443.9 232.5L440.9 232.9L437.9 233.1L434.9 233.4L431.9 233.5L428.9 233.6L425.9 233.7L423.0 233.6L420.0 233.5L417.0 233.3L414.1 233.0L411.2 232.6L408.2 232.1L405.6 230.0L402.7 229.3L399.9 228.5L397.2 227.7L394.4 226.7L391.8 225.7L389.1 224.7L386.4 223.6L383.8 222.5L381.2 221.4L378.6 220.2L376.1 219.0L373.5 217.7L371.0 216.4L368.6 215.0L366.1 213.6L363.7 212.2L361.3 210.7L358.9 209.2L356.6 207.6L354.3 206.0L352.0 204.3L349.7 202.7L347.4 201.0L345.1 199.2L342.9 197.4L340.6 195.6L338.4 193.7L336.2 191.8L334.1 189.9L330.8 188.8L328.6 186.7L326.6 184.5L324.5 182.3L322.5 180.0L320.6 177.7L318.8 175.2L317.0 172.8L315.3 170.2L313.7 167.6L312.2 165.0L310.7 162.2L309.4 159.5L308.1 156.6L307.0 153.8L306.0 150.8L305.1 147.9L304.3 144.9L303.6 141.9L302.9 138.8L302.4 135.8L301.9 132.7L301.5 129.6L301.2 126.5L300.9 123.4L300.8 120.3L301.2 117.2L301.7 114.1L302.4 111.0L303.1 108.0L304.0 105.0L304.9 102.1L305.8 99.1L306.8 96.2L307.7 93.3L308.6 90.5L309.5 87.6L310.5 84.7L311.4 81.8L312.4 79.0L313.4 76.1L314.4 73.3L315.4 70.4L316.6 67.6L317.8 64.8L319.1 62.1L320.5 59.3L322.4 56.9L324.8 54.9L327.2 52.9L329.8 51.1L332.3 49.3L335.9 48.5L338.3 46.7L340.7 45.1L343.1 43.4L345.5 41.8L347.9 40.2L350.2 38.6L352.5 37.0L354.8 35.4L357.2 33.8L359.5 32.3L361.9 30.8L364.3 29.4L366.7 28.0L369.1 26.6L371.6 25.3L374.0 23.9L376.5 22.7L379.1 21.4L381.6 20.2L384.1 19.0L386.7 17.8L389.3 16.7L392.0 15.6L394.6 14.6L397.3 13.6L400.0 12.6L402.8 11.8L405.6 10.9L408.3 8.6L411.2 7.9L414.1 7.3L417.0 6.8L420.0 6.4L423.0 6.1L426.0 6.0L429.0 6.0L432.0 6.2L435.0 6.5L438.0 6.9L440.9 7.4L443.9 8.0L446.8 8.7L449.7 9.4L452.6 10.1L455.6 10.9L458.5 11.7L461.4 12.5L464.3 13.4L467.2 14.3L470.1 15.3L473.0 16.3L475.9 17.3L478.8 18.5L481.6 19.7L484.4 21.1L487.2 22.5L489.9 24.1L492.2 26.2L494.4 28.4L496.5 30.7L498.6 33.0L500.6 35.4L502.5 37.8L504.4 40.2L506.3 42.6L508.1 45.1L509.7 47.7L511.2 50.3L512.8 52.9L514.3 55.5L515.9 58.0L517.4 60.6L518.9 63.2L520.2 65.9L521.4 68.7L522.4 71.5L523.3 74.3L524.1 77.2L524.8 80.1L524.0 83.5L524.5 86.4L524.9 89.2L525.2 92.1L525.6 95.0L525.9 97.8L526.1 100.6L526.3 103.5L526.5 106.3L526.6 109.1L526.7 111.9L526.8 114.7L526.8 117.5L526.7 120.3Z" fill="#0078ff" fill-rule="evenodd" stroke="#000" stroke-width="0.3" stroke-opacity="0.45"/>
<path d="M534.8 120.3L533.1 100.4L527.9 81.0L519.4 62.9L507.9 46.5L493.8 32.4L477.4 20.9L459.3 12.4L439.9 7.2L420.0 5.5L400.1 7.2L380.7 12.4L362.6 20.9L346.2 32.4L332.1 46.5L320.6 62.9L312.1 81.0L306.9 100.4L305.2 120.3L306.9 140.2L312.1 159.6L320.6 177.7L332.1 194.1L346.2 208.2L362.6 219.7L380.7 228.2L400.1 233.4L420.0 235.1L439.9 233.4L459.3 228.2L477.4 219.7L493.8 208.2L507.9 194.1L519.4 177.7L527.9 159.6L533.1 140.2ZM527.8 123.1L527.6 125.9L527.4 128.8L527.1 131.6L526.8 134.4L526.5 137.2L526.1 140.0L525.6 142.8L525.1 145.5L524.6 148.3L524.0 151.1L523.5 153.9L522.8 156.7L522.2 159.5L521.5 162.4L520.8 165.2L521.4 168.7L520.6 171.6L519.7 174.5L518.7 177.3L517.6 180.1L516.3 182.9L514.9 185.6L513.4 188.2L511.8 190.8L510.1 193.2L508.2 195.7L506.3 198.0L504.3 200.3L502.3 202.6L500.2 204.8L498.0 206.9L495.8 209.0L493.5 211.1L491.2 213.0L488.7 214.9L486.3 216.7L483.8 218.5L481.2 220.2L478.6 221.8L475.9 223.3L473.2 224.8L470.4 225.9L467.5 226.9L464.6 227.9L461.6 228.8L458.7 229.6L455.8 230.4L452.8 231.1L449.9 231.8L446.9 232.5L444.0 233.1L441.0 233.7L438.0 234.1L435.0 234.3L432.0 234.5L429.0 234.6L426.0 234.6L423.0 234.6L420.0 234.5L417.0 234.3L414.0 234.0L411.1 233.6L408.1 233.1L405.2 232.5L402.3 231.8L399.5 231.0L397.0 228.6L394.2 227.7L391.5 226.7L388.8 225.6L386.1 224.5L383.5 223.4L380.9 222.3L378.2 221.1L375.7 219.9L373.1 218.6L370.6 217.3L368.0 216.0L365.5 214.6L363.1 213.2L360.6 211.7L358.2 210.2L355.8 208.7L353.4 207.1L351.1 205.4L348.7 203.8L346.3 202.1L344.0 200.4L340.6 199.7L338.2 197.9L335.9 196.0L333.6 194.1L331.3 192.1L329.1 190.1L326.8 188.0L324.7 185.8L322.6 183.6L320.5 181.3L318.5 178.9L316.6 176.4L314.8 173.9L313.0 171.3L311.3 168.7L309.8 166.0L308.3 163.2L306.9 160.4L305.6 157.5L304.7 154.5L303.9 151.4L303.2 148.4L302.5 145.3L301.9 142.2L301.4 139.1L301.0 136.0L300.7 132.8L300.5 129.7L300.5 126.6L300.6 123.4L300.8 120.3L301.2 117.2L301.7 114.1L302.4 111.0L303.1 108.0L304.0 105.0L304.9 102.1L305.8 99.1L306.8 96.2L307.7 93.3L308.6 90.5L309.5 87.6L310.5 84.7L311.4 81.8L312.4 79.0L313.4 76.1L314.4 73.3L315.4 70.4L316.6 67.6L317.8 64.8L319.1 62.1L320.5 59.3L321.9 56.6L323.4 53.9L326.0 52.0L328.6 50.2L331.2 48.4L333.7 46.6L336.3 44.9L339.8 44.2L342.3 42.6L344.8 41.0L347.2 39.4L349.5 37.8L351.9 36.2L354.3 34.6L356.6 33.1L359.0 31.5L361.4 30.1L363.8 28.6L366.2 27.1L368.7 25.7L371.1 24.4L373.6 23.0L376.1 21.7L378.6 20.4L381.2 19.1L383.7 17.8L386.3 16.6L388.9 15.4L391.6 14.2L394.3 13.1L397.0 12.0L399.5 9.5L402.3 8.5L405.2 7.6L408.1 6.7L411.0 5.8L414.0 5.1L417.0 4.5L420.0 4.1L423.1 3.8L426.1 3.6L429.2 3.6L432.2 3.8L435.3 4.1L438.3 4.5L441.4 5.0L444.4 5.6L447.4 6.2L450.4 6.9L453.4 7.6L456.3 8.4L459.3 9.2L462.3 10.1L465.3 11.0L468.2 11.9L471.2 12.9L474.2 13.9L477.2 15.0L480.1 16.2L482.7 18.0L485.2 20.0L487.6 21.9L489.9 24.0L492.2 26.2L494.4 28.4L496.5 30.7L498.6 33.0L500.6 35.4L502.5 37.8L504.4 40.2L506.3 42.6L508.1 45.1L509.9 47.5L511.7 50.0L513.4 52.4L515.1 54.9L516.7 57.5L518.3 60.1L519.8 62.7L521.1 65.4L522.3 68.2L523.4 71.0L524.3 73.9L525.1 76.8L525.8 79.7L526.4 82.6L526.9 85.6L525.9 88.9L526.3 91.8L526.6 94.7L526.9 97.6L527.2 100.4L527.4 103.3L527.6 106.1L527.8 109.0L527.9 111.8L527.9 114.6L528.0 117.5L527.9 120.3Z" fill="#0028ff" fill-rule="evenodd" stroke="#000" stroke-width="0.3" stroke-opacity="0.45"/>
<path d="M312.3 87.4L312.5 87.9L312.7 88.7L313.0 89.7L313.4 90.8L313.9 91.9L314.5 92.9L315.1 93.7L315.9 94.4L316.6 95.0L317.4 95.5L318.2 95.9L319.1 96.3L320.1 96.6L321.2 96.9L322.3 97.0L323.2 97.1L324.0 97.2L324.5 97.3L325.1 93.9L324.5 93.8L323.7 93.7L322.8 93.5L321.9 93.4L321.1 93.1L320.5 92.9L319.9 92.6L319.4 92.3L318.9 91.9L318.4 91.5L318.0 91.1L317.7 90.7L317.5 90.2L317.2 89.4L316.9 88.5L316.7 87.6L316.5 86.8L316.3 86.2Z" fill="#08c8a8"/>
<path d="M324.7 96.1L325.5 96.3L326.6 96.5L327.8 96.8L329.3 97.1L330.7 97.5L332.1 97.8L333.5 98.1L334.9 98.4L336.4 98.7L337.9 99.0L339.3 99.3L340.8 99.6L342.2 99.9L343.6 100.3L344.9 100.6L346.3 100.9L347.8 101.2L349.5 101.4L351.4 101.7L353.5 101.9L355.7 102.2L357.9 102.4L360.1 102.5L362.3 102.6L364.4 102.6L366.6 102.5L368.7 102.3L370.9 102.1L373.0 101.9L375.0 101.7L377.1 101.4L379.1 101.1L381.1 100.7L383.0 100.4L385.0 100.0L387.1 99.6L389.1 99.3L391.3 98.9L393.4 98.6L395.5 98.2L397.6 97.9L399.6 97.7L401.7 97.6L403.9 97.6L406.0 97.6L407.9 97.6L409.6 97.7L410.8 97.7L410.8 97.1L409.6 97.1L408.0 97.0L406.0 97.0L403.9 96.9L401.7 97.0L399.6 97.1L397.5 97.3L395.4 97.6L393.3 97.9L391.1 98.3L389.0 98.6L386.9 99.0L384.9 99.3L382.9 99.6L380.9 100.0L379.0 100.3L377.0 100.7L375.0 100.9L372.9 101.2L370.8 101.4L368.7 101.6L366.5 101.7L364.4 101.8L362.3 101.8L360.2 101.7L358.0 101.6L355.7 101.4L353.6 101.1L351.5 100.8L349.7 100.6L348.0 100.3L346.5 100.0L345.1 99.7L343.8 99.4L342.4 99.1L341.0 98.8L339.5 98.4L338.0 98.1L336.6 97.8L335.1 97.5L333.7 97.1L332.3 96.8L330.9 96.5L329.5 96.2L328.1 95.9L326.8 95.6L325.7 95.3L324.9 95.1Z" fill="#18c83c"/>
<path d="M319.6 95.9L320.1 96.0L320.8 96.1L321.6 96.3L322.5 96.5L323.5 96.7L324.5 96.9L325.6 97.1L326.7 97.4L328.0 97.7L329.3 98.0L330.6 98.3L331.9 98.6L333.4 98.9L335.0 99.3L336.7 99.6L338.3 100.0L339.7 100.3L340.6 100.5" fill="none" stroke="#101810" stroke-width="1.0" stroke-linecap="round"/>
<path d="M517.5 67.8L517.0 67.0L516.3 65.8L515.5 64.4L514.6 63.0L513.7 61.5L512.9 60.3L512.2 59.2L511.5 58.2L510.8 57.2L510.1 56.2L509.4 55.2L508.6 54.2L507.8 53.2L507.0 52.1L506.2 51.0L505.3 50.0L504.4 49.0L503.6 48.0L502.8 47.1L502.0 46.2L501.1 45.3L500.3 44.4L499.4 43.7L498.5 43.2L497.6 42.8L496.7 42.7L495.8 42.8L495.0 43.0L494.3 43.3L493.6 43.7L492.9 44.3L492.4 44.9L491.9 45.7L491.4 46.5L491.0 47.3L490.6 48.2L490.2 49.1L489.8 50.1L489.4 51.2L489.0 52.2L488.6 53.3L488.1 54.4L487.5 55.6L486.8 56.9L486.0 58.3L485.3 59.6L484.7 60.8L484.2 61.6L485.8 62.4L486.2 61.7L486.9 60.6L487.7 59.2L488.5 57.8L489.2 56.5L489.9 55.2L490.4 54.1L490.9 52.9L491.3 51.8L491.6 50.8L492.0 49.9L492.4 49.0L492.8 48.2L493.3 47.5L493.7 46.8L494.1 46.2L494.4 45.8L494.8 45.5L495.3 45.2L495.7 45.1L496.1 45.0L496.6 45.0L497.0 45.0L497.5 45.2L498.0 45.6L498.7 46.2L499.4 46.9L500.2 47.8L501.0 48.7L501.8 49.6L502.6 50.5L503.4 51.5L504.2 52.6L505.0 53.7L505.8 54.7L506.6 55.8L507.3 56.8L508.0 57.7L508.7 58.7L509.3 59.6L510.0 60.6L510.7 61.7L511.4 63.0L512.3 64.4L513.1 65.8L513.9 67.2L514.6 68.4L515.1 69.2Z" fill="#14d070"/>
<path d="M484.6 61.6L484.2 62.0L483.8 62.5L483.2 63.1L482.6 63.8L481.8 64.7L481.1 65.6L480.2 66.7L479.3 67.9L478.3 69.3L477.2 70.7L476.1 72.2L474.9 73.7L473.6 75.3L472.1 77.0L470.6 78.7L469.1 80.6L467.5 82.4L466.1 84.2L464.8 86.0L463.5 87.8L462.2 89.7L461.0 91.5L459.8 93.4L458.6 95.3L457.5 97.3L456.5 99.3L455.5 101.4L454.5 103.4L453.6 105.3L452.6 107.1L451.5 108.8L450.3 110.5L449.1 112.2L448.0 113.6L447.0 114.9L446.3 115.8L446.9 116.2L447.6 115.3L448.5 114.1L449.7 112.6L450.9 111.0L452.1 109.2L453.2 107.5L454.3 105.7L455.3 103.7L456.2 101.7L457.2 99.7L458.3 97.7L459.4 95.7L460.5 93.8L461.7 92.0L463.0 90.2L464.2 88.4L465.5 86.6L466.9 84.8L468.3 83.0L469.8 81.2L471.4 79.4L472.9 77.6L474.4 75.9L475.7 74.3L476.9 72.8L478.1 71.3L479.2 69.9L480.2 68.6L481.1 67.4L481.9 66.4L482.7 65.4L483.4 64.6L484.1 63.9L484.6 63.3L485.1 62.8L485.4 62.4Z" fill="#18c850"/>
<path d="M493.0 43.7L492.7 44.1L492.3 44.7L491.8 45.3L491.2 46.1L490.7 47.0L490.2 47.9L489.7 48.9L489.3 49.9L488.9 51.0L488.5 52.0L488.1 53.1L487.6 54.1L487.0 55.3L486.3 56.7L485.5 58.0L484.8 59.3L484.2 60.5L483.7 61.3" fill="none" stroke="#101810" stroke-width="1.1" stroke-linecap="round"/>
<path d="M517.5 67.8L517.0 67.0L516.3 65.8L515.5 64.4L514.6 62.9L513.8 61.5L513.0 60.2L512.3 59.1L511.6 58.1L510.9 57.1L510.2 56.1L509.5 55.2L508.7 54.2L507.9 53.1L507.1 52.0L506.3 51.0L505.4 49.9L504.6 48.8L503.8 47.9L502.9 47.0L502.1 46.0L501.3 45.1L500.4 44.3L499.6 43.5L498.6 42.9L497.5 42.6L496.4 42.6L495.5 42.8L494.7 43.0L494.2 43.2L493.9 43.2" fill="none" stroke="#0c8c3c" stroke-width="1.4" stroke-linecap="round"/>
<path d="M440.9 229.2L441.4 229.0L442.2 228.9L443.2 228.7L444.2 228.4L445.2 228.1L446.2 227.6L446.9 227.1L447.6 226.4L448.2 225.7L448.8 224.9L449.2 224.1L449.4 223.2L449.4 222.3L449.3 221.4L448.9 220.6L448.6 219.9L448.2 219.2L447.8 218.5L447.4 217.7L447.0 216.9L446.5 216.1L446.0 215.3L445.5 214.4L445.0 213.5L444.5 212.4L443.9 211.1L443.3 209.8L442.7 208.5L442.3 207.4L441.9 206.6L440.1 207.4L440.4 208.2L440.8 209.3L441.4 210.6L441.9 212.0L442.5 213.3L443.0 214.5L443.5 215.5L444.0 216.4L444.5 217.3L445.0 218.1L445.4 218.8L445.8 219.5L446.1 220.3L446.5 221.0L446.7 221.6L446.9 222.1L447.0 222.5L447.0 222.8L446.8 223.2L446.6 223.6L446.2 224.1L445.8 224.6L445.3 225.0L444.8 225.4L444.3 225.6L443.5 225.8L442.6 226.0L441.7 226.2L440.9 226.3L440.3 226.4Z" fill="#08d0b0"/>
<path d="M441.7 206.9L441.3 205.3L440.9 203.0L440.3 200.4L439.7 197.6L439.1 194.8L438.5 192.4L438.0 190.2L437.4 188.1L436.9 186.1L436.3 184.0L435.6 182.0L434.7 179.8L433.7 177.5L432.6 175.1L431.4 172.7L430.1 170.3L428.8 168.0L427.4 165.7L426.0 163.6L424.4 161.4L422.8 159.4L421.2 157.4L419.7 155.5L418.3 153.7L417.0 152.0L415.7 150.4L414.5 148.8L413.4 147.3L412.5 146.2L411.8 145.3L411.2 145.7L411.9 146.6L412.8 147.8L413.9 149.2L415.1 150.8L416.4 152.5L417.7 154.3L419.0 156.0L420.5 157.9L422.1 159.9L423.7 162.0L425.2 164.1L426.6 166.3L427.9 168.5L429.2 170.8L430.5 173.2L431.6 175.6L432.7 178.0L433.7 180.2L434.5 182.3L435.2 184.4L435.7 186.4L436.3 188.4L436.8 190.5L437.3 192.6L437.9 195.1L438.5 197.9L439.0 200.7L439.6 203.3L440.0 205.5L440.3 207.1Z" fill="#18c83c"/>
<path d="M446.7 223.5L446.5 223.1L446.4 222.5L446.2 221.8L445.9 221.1L445.6 220.4L445.4 219.7L445.0 219.0L444.6 218.3L444.1 217.5L443.6 216.7L443.1 215.7L442.6 214.7L442.0 213.5L441.4 212.2L440.8 210.8L440.3 209.5L439.9 208.4L439.5 207.6" fill="none" stroke="#101810" stroke-width="1.3" stroke-linecap="round"/>
<path d="M321.0 96.0C322.9 96.3 328.9 97.1 332.2 97.7C335.5 98.3 338.0 99.0 340.9 99.6C343.8 100.2 346.0 100.9 349.6 101.4C353.2 101.9 358.1 102.5 362.3 102.6C366.5 102.6 370.9 102.2 375.0 101.7C379.1 101.2 382.9 100.4 387.0 99.7C391.1 99.0 395.6 98.2 399.6 97.8C403.6 97.4 408.9 97.6 410.8 97.6" fill="none" stroke="#111" stroke-width="1.1" stroke-dasharray="2.6 2.8"/>
<path d="M355.3 34.8C355.6 35.5 356.1 38.2 357.2 39.2C358.3 40.2 359.6 40.7 362.1 41.0C364.6 41.3 368.7 40.8 372.0 40.8C375.3 40.8 378.4 40.5 382.0 41.0C385.6 41.5 389.8 42.2 393.6 43.7C397.4 45.2 401.5 47.5 404.8 50.0C408.1 52.5 411.0 55.6 413.5 58.7C416.0 61.8 418.0 65.1 419.7 68.6C421.4 72.1 422.7 76.3 423.5 79.8C424.3 83.3 424.6 86.9 424.7 89.8C424.8 92.7 424.3 96.0 424.2 97.3" fill="none" stroke="#111" stroke-width="1.1" stroke-dasharray="2.6 2.8"/>
<path d="M489.5 52.0C488.8 53.3 486.8 58.5 485.5 60.0C484.2 61.5 484.2 59.4 482.0 61.0C479.8 62.6 474.9 66.8 472.0 69.9C469.1 73.0 466.7 76.5 464.6 79.8C462.5 83.1 461.1 86.4 459.6 89.8C458.1 93.2 457.4 96.6 455.8 100.0C454.2 103.4 451.7 106.9 450.0 110.0C448.3 113.1 446.2 117.1 445.4 118.5" fill="none" stroke="#111" stroke-width="1.1" stroke-dasharray="2.6 2.8"/>
<path d="M527.8 105.0C527.0 105.2 524.7 104.8 522.8 106.0C520.9 107.2 518.5 110.0 516.6 112.3C514.7 114.6 513.2 117.0 511.6 120.0C510.0 123.0 509.2 126.9 506.7 130.0C504.2 133.1 500.4 136.2 496.7 138.7C493.0 141.2 488.9 143.4 484.3 145.0C479.7 146.6 473.5 147.6 469.3 148.0C465.1 148.4 462.3 148.0 459.3 147.5C456.3 147.0 454.1 146.5 451.5 145.0C448.9 143.5 445.7 140.4 444.0 138.7C442.3 137.0 441.9 135.6 441.5 135.0" fill="none" stroke="#111" stroke-width="1.1" stroke-dasharray="2.6 2.8"/>
<path d="M397.1 131.2C395.0 131.4 388.4 131.2 384.7 132.5C381.0 133.8 377.4 136.0 374.7 138.7C372.0 141.4 370.1 145.1 368.5 148.6C366.9 152.1 365.9 156.3 365.3 159.8C364.7 163.3 364.7 166.4 364.8 169.8C364.9 173.2 365.4 176.8 366.0 180.0C366.6 183.2 367.2 186.0 368.3 189.2C369.4 192.4 371.2 196.3 372.6 199.1C374.0 201.9 375.4 203.7 376.5 206.0C377.6 208.3 378.9 211.2 379.5 213.0C380.1 214.8 379.8 216.3 379.8 217.0" fill="none" stroke="#111" stroke-width="1.1" stroke-dasharray="2.6 2.8"/>
<path d="M412.0 146.0C413.1 147.4 415.9 151.1 418.5 154.5C421.1 157.9 424.8 162.2 427.5 166.5C430.2 170.8 432.9 175.7 434.7 180.0C436.5 184.3 437.3 188.2 438.4 192.5C439.5 196.8 440.5 202.7 441.5 206.0C442.5 209.3 444.0 211.4 444.5 212.5" fill="none" stroke="#111" stroke-width="1.1" stroke-dasharray="2.6 2.8"/>
<path d="M356.7 33.2A107.7 107.7 0 0 1 492.8 40.9" fill="none" stroke="#111" stroke-width="1.3" stroke-dasharray="2.4 3.4"/>
<path d="M526.7 105.3A107.7 107.7 0 0 1 453.3 222.7" fill="none" stroke="#111" stroke-width="1.3" stroke-dasharray="2.4 3.4"/>
<path d="M379.7 220.2A107.7 107.7 0 0 1 317.0 88.8" fill="none" stroke="#111" stroke-width="1.3" stroke-dasharray="2.4 3.4"/>
</g>
<circle cx="419.8" cy="120.5" r="23.2" fill="#fff" stroke="#222" stroke-width="0.8"/>
<text x="59.9" y="27.3" font-size="8.5">TV</text>
<text x="102.0" y="77.5" font-size="8.5">MFA</text>
<text x="126.0" y="57.8" font-size="8.5">LE</text>
<text x="200.3" y="69.4" font-size="8.5">TE</text>
<text x="210.8" y="101.0" font-size="8.5">TSV</text>
<text x="234.9" y="31.9" font-size="8.5">TLV</text>
<text x="196.6" y="133.0" font-size="8.5">CS</text>
<path d="M72.3 25.9L80.6 30.4" stroke="#333" stroke-width="0.8" fill="none"/><path d="M84.1 32.3L79.8 31.8L81.3 29.0Z" fill="#333"/>
<path d="M107.0 69.8L98.1 55.8" stroke="#333" stroke-width="0.8" fill="none"/><path d="M95.9 52.4L99.4 54.9L96.7 56.6Z" fill="#333"/>
<path d="M240.6 33.6L235.0 42.2" stroke="#333" stroke-width="0.8" fill="none"/><path d="M232.8 45.5L233.7 41.3L236.3 43.0Z" fill="#333"/>
<path d="M195.4 128.7L185.8 123.8" stroke="#333" stroke-width="0.8" fill="none"/><path d="M182.2 122.0L186.5 122.4L185.0 125.2Z" fill="#333"/>
<path d="M217.3 93.6L219.0 67.5" stroke="#333" stroke-width="0.8" fill="none"/>
<text x="328.8" y="27.4" font-size="8.5">TV</text>
<text x="370.0" y="77.8" font-size="8.5">MFA</text>
<text x="396.0" y="58.2" font-size="8.5">LE</text>
<text x="461.8" y="63.5" font-size="8.5">TE</text>
<text x="480.2" y="92.6" font-size="8.5">TSV</text>
<text x="504.7" y="32.4" font-size="8.5">TLV</text>
<text x="465.8" y="133.7" font-size="8.5">CS</text>
<path d="M341.0 26.2L349.2 30.5" stroke="#333" stroke-width="0.8" fill="none"/><path d="M352.8 32.3L348.5 31.9L350.0 29.0Z" fill="#333"/>
<path d="M375.6 69.9L367.7 58.3" stroke="#333" stroke-width="0.8" fill="none"/><path d="M365.4 55.0L369.0 57.4L366.3 59.2Z" fill="#333"/>
<path d="M508.9 34.9L503.1 42.4" stroke="#333" stroke-width="0.8" fill="none"/><path d="M500.7 45.6L501.9 41.5L504.4 43.4Z" fill="#333"/>
<path d="M464.8 129.5L453.9 123.2" stroke="#333" stroke-width="0.8" fill="none"/><path d="M450.4 121.2L454.7 121.8L453.1 124.6Z" fill="#333"/>
<path d="M485.3 81.5L485.2 60.0" stroke="#333" stroke-width="0.8" fill="none"/>
<path d="M171.8 235.3C172.7 235.1 175.5 234.6 177.3 234.1C179.1 233.7 180.9 233.2 182.7 232.7C184.5 232.2 186.3 231.7 188.0 231.1C189.8 230.5 191.6 229.9 193.3 229.2C195.0 228.5 196.7 227.8 198.4 227.0C200.1 226.3 201.8 225.5 203.5 224.6C205.1 223.8 206.8 222.9 208.4 222.0C210.0 221.1 211.6 220.1 213.2 219.1C214.8 218.1 216.3 217.1 217.9 216.0C219.4 214.9 220.9 213.8 222.4 212.7C223.8 211.6 226.0 209.8 226.7 209.2" fill="none" stroke="#222" stroke-width="1"/><path d="M229.0 207.2L225.5 213.1L222.6 209.8Z" fill="#111"/>
<path d="M441.1 235.4C442.0 235.2 444.8 234.7 446.6 234.2C448.4 233.8 450.2 233.3 452.0 232.8C453.8 232.3 455.6 231.8 457.3 231.2C459.1 230.6 460.9 230.0 462.6 229.3C464.3 228.6 466.0 227.9 467.7 227.1C469.4 226.4 471.1 225.6 472.8 224.7C474.4 223.9 476.1 223.0 477.7 222.1C479.3 221.2 480.9 220.2 482.5 219.2C484.1 218.2 485.6 217.2 487.2 216.1C488.7 215.0 490.2 213.9 491.7 212.8C493.1 211.7 495.3 209.9 496.0 209.3" fill="none" stroke="#222" stroke-width="1"/><path d="M498.3 207.3L494.8 213.2L491.9 209.9Z" fill="#111"/>
<text x="201.5" y="232.7" font-size="8.1">Rotation</text>
<text x="470.8" y="232.7" font-size="8.1">Rotation</text>
<text x="14.2" y="231.2" font-size="11">(a)</text>
<text x="282" y="230.6" font-size="11">(b)</text>
<rect x="538.1" y="5.6" width="1.5" height="230" fill="#7c7c7c"/>
</svg></body></html>
